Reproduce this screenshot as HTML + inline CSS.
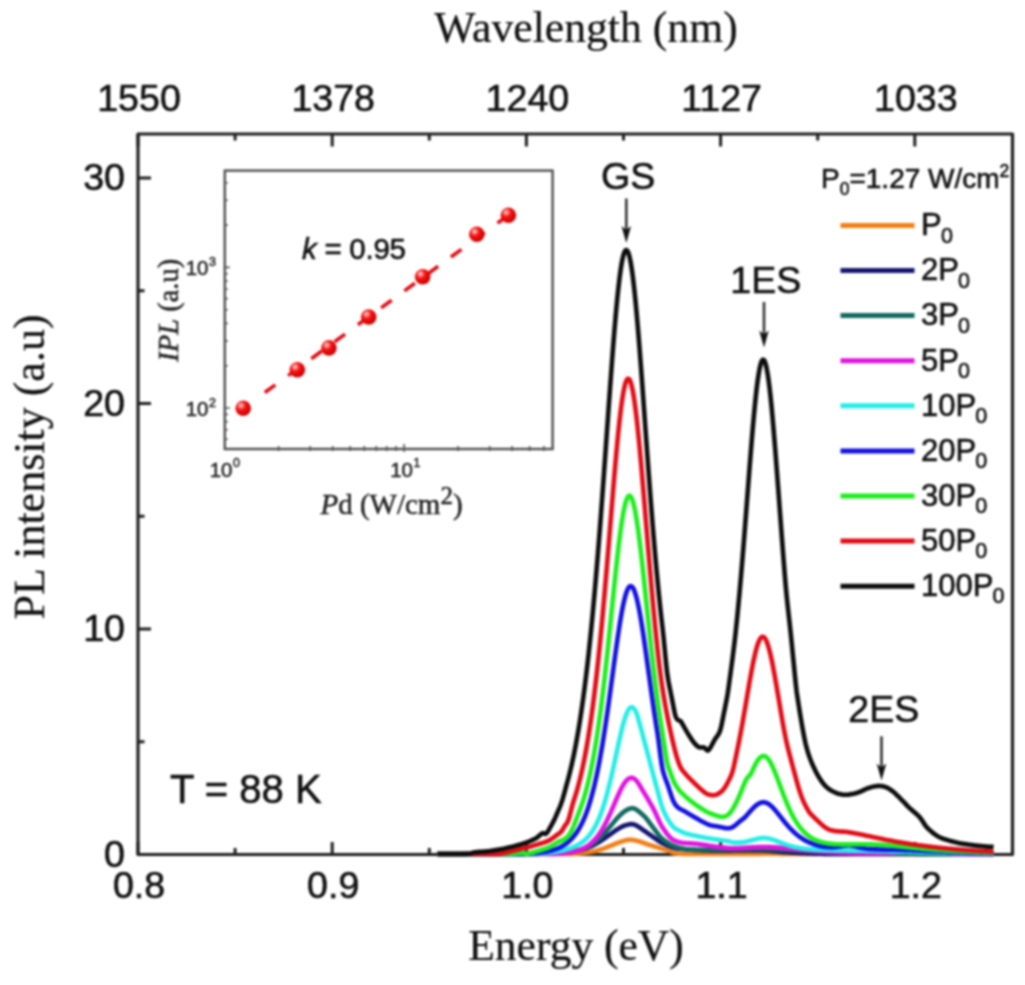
<!DOCTYPE html>
<html><head><meta charset="utf-8"><style>
html,body{margin:0;padding:0;background:#fff;overflow:hidden;}
svg{display:block;}
</style></head><body>
<svg width="1025" height="985" viewBox="0 0 1025 985">
<defs><filter id="soft" filterUnits="userSpaceOnUse" x="0" y="0" width="1025" height="985" color-interpolation-filters="sRGB"><feGaussianBlur stdDeviation="1.0"/></filter></defs>
<g filter="url(#soft)">
<rect width="1025" height="985" fill="#fff"/>
<text x="586" y="41.5" font-family="'Liberation Serif', serif" font-size="43.7" text-anchor="middle" fill="#111" stroke="#111" stroke-width="0.24">Wavelength (nm)</text>
<text x="576" y="960" font-family="'Liberation Serif', serif" font-size="43.5" text-anchor="middle" fill="#111" stroke="#111" stroke-width="0.24">Energy (eV)</text>
<text transform="translate(44,467) rotate(-90)" font-family="'Liberation Serif', serif" font-size="44" text-anchor="middle" fill="#111" stroke="#111" stroke-width="0.24">PL intensity (a.u)</text>
<text x="139.0" y="110.6" font-family="'Liberation Sans', sans-serif" font-size="37.6" text-anchor="middle" fill="#111" stroke="#111" stroke-width="0.6">1550</text>
<text x="333.2" y="110.6" font-family="'Liberation Sans', sans-serif" font-size="37.6" text-anchor="middle" fill="#111" stroke="#111" stroke-width="0.6">1378</text>
<text x="527.4" y="110.6" font-family="'Liberation Sans', sans-serif" font-size="37.6" text-anchor="middle" fill="#111" stroke="#111" stroke-width="0.6">1240</text>
<text x="721.6" y="110.6" font-family="'Liberation Sans', sans-serif" font-size="37.6" text-anchor="middle" fill="#111" stroke="#111" stroke-width="0.6">1127</text>
<text x="915.8" y="110.6" font-family="'Liberation Sans', sans-serif" font-size="37.6" text-anchor="middle" fill="#111" stroke="#111" stroke-width="0.6">1033</text>
<text x="139.0" y="898" font-family="'Liberation Sans', sans-serif" font-size="37.6" text-anchor="middle" fill="#111" stroke="#111" stroke-width="0.6">0.8</text>
<text x="333.2" y="898" font-family="'Liberation Sans', sans-serif" font-size="37.6" text-anchor="middle" fill="#111" stroke="#111" stroke-width="0.6">0.9</text>
<text x="527.4" y="898" font-family="'Liberation Sans', sans-serif" font-size="37.6" text-anchor="middle" fill="#111" stroke="#111" stroke-width="0.6">1.0</text>
<text x="721.6" y="898" font-family="'Liberation Sans', sans-serif" font-size="37.6" text-anchor="middle" fill="#111" stroke="#111" stroke-width="0.6">1.1</text>
<text x="915.8" y="898" font-family="'Liberation Sans', sans-serif" font-size="37.6" text-anchor="middle" fill="#111" stroke="#111" stroke-width="0.6">1.2</text>
<text x="125" y="866.8" font-family="'Liberation Sans', sans-serif" font-size="37.6" text-anchor="end" fill="#111" stroke="#111" stroke-width="0.6">0</text>
<text x="125" y="641.3" font-family="'Liberation Sans', sans-serif" font-size="37.6" text-anchor="end" fill="#111" stroke="#111" stroke-width="0.6">10</text>
<text x="125" y="415.8" font-family="'Liberation Sans', sans-serif" font-size="37.6" text-anchor="end" fill="#111" stroke="#111" stroke-width="0.6">20</text>
<text x="125" y="190.3" font-family="'Liberation Sans', sans-serif" font-size="37.6" text-anchor="end" fill="#111" stroke="#111" stroke-width="0.6">30</text>
<path d="M138.0 854.5V842.0M138.0 134.0V146.5M235.1 854.5V848.0M235.1 134.0V140.5M332.2 854.5V842.0M332.2 134.0V146.5M429.3 854.5V848.0M429.3 134.0V140.5M526.4 854.5V842.0M526.4 134.0V146.5M623.5 854.5V848.0M623.5 134.0V140.5M720.6 854.5V842.0M720.6 134.0V146.5M817.7 854.5V848.0M817.7 134.0V140.5M914.8 854.5V842.0M914.8 134.0V146.5M138.0 854.5H151.0M138.0 741.8H144.5M138.0 629.0H151.0M138.0 516.2H144.5M138.0 403.5H151.0M138.0 290.8H144.5M138.0 178.0H151.0" stroke="#1e1e1e" stroke-width="3" fill="none"/>
<rect x="138.0" y="134.0" width="874.5" height="720.5" fill="none" stroke="#1e1e1e" stroke-width="3.2" stroke-linejoin="round"/>
<rect x="224.8" y="170.6" width="327.8" height="278.4" fill="#fff" stroke="#4e4e4e" stroke-width="2.4"/>
<path d="M278.6 451.0V446.0M310.2 451.0V446.0M332.7 451.0V446.0M350.1 451.0V446.0M364.3 451.0V446.0M376.3 451.0V446.0M386.7 451.0V446.0M395.9 451.0V446.0M458.1 451.0V446.0M489.7 451.0V446.0M512.2 451.0V446.0M529.6 451.0V446.0M543.8 451.0V446.0M223.8 439.2H227.8M223.8 429.8H227.8M223.8 421.6H227.8M223.8 414.4H227.8M223.8 408.0H229.8M223.8 365.7H227.8M223.8 340.9H227.8M223.8 323.4H227.8M223.8 309.7H227.8M223.8 298.6H227.8M223.8 289.2H227.8M223.8 281.0H227.8M223.8 273.8H227.8M223.8 267.4H229.8M223.8 225.1H227.8M223.8 200.3H227.8M223.8 182.8H227.8M404.1 452.0V444.0" stroke="#555" stroke-width="1.6" fill="none"/>
<text x="208.5" y="274.9" font-family="'Liberation Sans', sans-serif" font-size="20.5" text-anchor="end" fill="#222" stroke="#222" stroke-width="0.48">10</text>
<text x="209" y="265.9" font-family="'Liberation Sans', sans-serif" font-size="12.5" fill="#222" stroke="#222" stroke-width="0.48">3</text>
<text x="208.5" y="415.5" font-family="'Liberation Sans', sans-serif" font-size="20.5" text-anchor="end" fill="#222" stroke="#222" stroke-width="0.48">10</text>
<text x="209" y="406.5" font-family="'Liberation Sans', sans-serif" font-size="12.5" fill="#222" stroke="#222" stroke-width="0.48">2</text>
<text x="232.5" y="476.5" font-family="'Liberation Sans', sans-serif" font-size="20.5" text-anchor="end" fill="#222" stroke="#222" stroke-width="0.48">10</text>
<text x="233" y="467" font-family="'Liberation Sans', sans-serif" font-size="12.5" fill="#222" stroke="#222" stroke-width="0.48">0</text>
<text x="413" y="476.5" font-family="'Liberation Sans', sans-serif" font-size="20.5" text-anchor="end" fill="#222" stroke="#222" stroke-width="0.48">10</text>
<text x="413.5" y="467" font-family="'Liberation Sans', sans-serif" font-size="12.5" fill="#222" stroke="#222" stroke-width="0.48">1</text>
<text x="391.5" y="514" font-family="'Liberation Serif', serif" font-size="29" text-anchor="middle" fill="#222" stroke="#222" stroke-width="0.48"><tspan font-style="italic">P</tspan>d (W/cm<tspan dy="-10" font-size="25">2</tspan><tspan dy="10">)</tspan></text>
<text transform="translate(177.5,310.3) rotate(-90)" font-family="'Liberation Serif', serif" font-size="28.5" text-anchor="middle" fill="#222" stroke="#222" stroke-width="0.48"><tspan font-style="italic">IPL</tspan> (a.u)</text>
<text x="302" y="259.3" font-family="'Liberation Sans', sans-serif" font-size="29.5" textLength="104" lengthAdjust="spacing" fill="#111" stroke="#111" stroke-width="0.6"><tspan font-style="italic">k</tspan> = 0.95</text>
<line x1="252.9" y1="401.2" x2="508.4" y2="215.2" stroke="#e20c16" stroke-width="3.6" stroke-dasharray="13,15.78" stroke-dashoffset="14.08"/>
<defs><radialGradient id="sph" cx="0.36" cy="0.32" r="0.72"><stop offset="0" stop-color="#ffffff"/><stop offset="0.22" stop-color="#ff6060"/><stop offset="0.45" stop-color="#f01010"/><stop offset="1" stop-color="#c80000"/></radialGradient></defs>
<circle cx="243.2" cy="408.3" r="7.8" fill="url(#sph)"/>
<circle cx="297.3" cy="369.7" r="7.8" fill="url(#sph)"/>
<circle cx="328.9" cy="347.9" r="7.8" fill="url(#sph)"/>
<circle cx="368.7" cy="317.0" r="7.8" fill="url(#sph)"/>
<circle cx="422.7" cy="276.8" r="7.8" fill="url(#sph)"/>
<circle cx="476.8" cy="234.3" r="7.8" fill="url(#sph)"/>
<circle cx="508.4" cy="215.2" r="7.8" fill="url(#sph)"/>
<polyline points="437.6,854.0 438.6,854.0 439.6,854.0 440.6,854.0 441.6,854.0 442.6,854.0 443.6,854.0 444.6,854.0 445.6,854.0 446.6,854.0 447.6,854.0 448.6,854.0 449.6,854.0 450.6,854.0 451.6,854.0 452.6,854.0 453.6,854.0 454.6,854.0 455.6,854.0 456.6,854.0 457.6,854.0 458.6,854.0 459.6,854.0 460.6,854.0 461.6,854.0 462.6,854.0 463.6,854.0 464.6,854.0 465.6,854.0 466.6,854.0 467.6,854.0 468.6,854.0 469.6,854.0 470.6,854.0 471.6,854.0 472.6,854.0 473.6,854.0 474.6,854.0 475.6,854.0 476.6,854.0 477.6,854.0 478.6,854.0 479.6,854.0 480.6,854.0 481.6,854.0 482.6,854.0 483.6,854.0 484.6,854.0 485.6,854.0 486.6,854.0 487.6,854.0 488.6,854.0 489.6,854.0 490.6,854.0 491.6,854.0 492.6,854.0 493.6,854.0 494.6,854.0 495.6,854.0 496.6,854.0 497.6,854.0 498.6,854.0 499.6,854.0 500.6,854.0 501.6,854.0 502.6,854.0 503.6,854.0 504.6,854.0 505.6,854.0 506.6,854.0 507.6,854.0 508.6,854.0 509.6,854.0 510.6,854.0 511.6,854.0 512.6,854.0 513.6,854.0 514.6,854.0 515.6,854.0 516.6,854.0 517.6,854.0 518.6,854.0 519.6,854.0 520.6,854.0 521.6,854.0 522.6,854.0 523.6,854.0 524.6,854.0 525.6,854.0 526.6,854.0 527.6,854.0 528.6,854.0 529.6,854.0 530.6,854.0 531.6,854.0 532.6,854.0 533.6,854.0 534.6,854.0 535.6,854.0 536.6,854.0 537.6,854.0 538.6,854.0 539.6,854.0 540.6,854.0 541.6,854.0 542.6,854.0 543.6,854.0 544.6,854.0 545.6,854.0 546.6,854.0 547.6,854.0 548.6,854.0 549.6,854.0 550.6,854.0 551.6,854.0 552.6,854.0 553.6,854.0 554.6,854.0 555.6,854.0 556.6,854.0 557.6,854.0 558.6,854.0 559.6,854.0 560.6,854.0 561.6,854.0 562.6,854.0 563.6,854.0 564.6,854.0 565.6,854.0 566.6,854.0 567.6,854.0 568.6,854.0 569.6,854.0 570.6,854.0 571.6,853.9 572.6,853.9 573.6,853.8 574.6,853.8 575.6,853.7 576.6,853.7 577.6,853.6 578.6,853.5 579.6,853.4 580.6,853.3 581.6,853.2 582.6,853.1 583.6,853.0 584.6,852.9 585.6,852.8 586.6,852.6 587.6,852.5 588.6,852.3 589.6,852.2 590.6,852.0 591.6,851.8 592.6,851.6 593.6,851.4 594.6,851.2 595.6,850.9 596.6,850.7 597.6,850.4 598.6,850.1 599.6,849.8 600.6,849.5 601.6,849.2 602.6,848.9 603.6,848.5 604.6,848.2 605.6,847.8 606.6,847.4 607.6,847.0 608.6,846.6 609.6,846.2 610.6,845.8 611.6,845.4 612.6,845.0 613.6,844.6 614.6,844.1 615.6,843.7 616.6,843.3 617.6,842.9 618.6,842.5 619.6,842.2 620.6,841.8 621.6,841.5 622.6,841.2 623.6,840.9 624.6,840.6 625.6,840.3 626.6,840.1 627.6,840.0 628.6,839.8 629.6,839.8 630.6,839.8 631.6,839.9 632.6,840.0 633.6,840.1 634.6,840.3 635.6,840.5 636.6,840.7 637.6,840.9 638.6,841.2 639.6,841.5 640.6,841.8 641.6,842.2 642.6,842.5 643.6,842.9 644.6,843.3 645.6,843.6 646.6,844.0 647.6,844.3 648.6,844.7 649.6,845.0 650.6,845.3 651.6,845.6 652.6,845.9 653.6,846.2 654.6,846.5 655.6,846.8 656.6,847.1 657.6,847.4 658.6,847.7 659.6,848.0 660.6,848.3 661.6,848.6 662.6,848.9 663.6,849.2 664.6,849.4 665.6,849.7 666.6,850.0 667.6,850.3 668.6,850.6 669.6,851.0 670.6,851.5 671.6,852.1 672.6,852.6 673.6,853.1 674.6,853.3 675.6,853.4 676.6,853.5 677.6,853.6 678.6,853.7 679.6,853.7 680.6,853.8 681.6,853.8 682.6,853.9 683.6,854.0 684.6,854.0 685.6,854.0 686.6,854.0 687.6,854.0 688.6,854.0 689.6,854.0 690.6,854.0 691.6,854.0 692.6,854.0 693.6,854.0 694.6,854.0 695.6,854.0 696.6,854.0 697.6,854.0 698.6,854.0 699.6,854.0 700.6,854.0 701.6,854.0 702.6,854.0 703.6,854.0 704.6,854.0 705.6,854.0 706.6,854.0 707.6,854.0 708.6,854.0 709.6,854.0 710.6,854.0 711.6,854.0 712.6,854.0 713.6,854.0 714.6,854.0 715.6,854.0 716.6,854.0 717.6,854.0 718.6,854.0 719.6,854.0 720.6,854.0 721.6,854.0 722.6,854.0 723.6,854.0 724.6,854.0 725.6,854.0 726.6,854.0 727.6,854.0 728.6,854.0 729.6,854.0 730.6,854.0 731.6,854.0 732.6,854.0 733.6,854.0 734.6,854.0 735.6,854.0 736.6,854.0 737.6,854.0 738.6,854.0 739.6,854.0 740.6,854.0 741.6,854.0 742.6,854.0 743.6,854.0 744.6,854.0 745.6,854.0 746.6,854.0 747.6,854.0 748.6,854.0 749.6,854.0 750.6,854.0 751.6,854.0 752.6,854.0 753.6,854.0 754.6,854.0 755.6,854.0 756.6,854.0 757.6,854.0 758.6,854.0 759.6,853.9 760.6,853.9 761.6,853.8 762.6,853.8 763.6,853.8 764.6,853.8 765.6,853.8 766.6,853.8 767.6,853.8 768.6,853.8 769.6,853.8 770.6,853.8 771.6,853.8 772.6,853.8 773.6,853.8 774.6,853.8 775.6,853.8 776.6,853.8 777.6,853.8 778.6,853.9 779.6,853.9 780.6,853.9 781.6,853.9 782.6,853.9 783.6,853.9 784.6,854.0 785.6,854.0 786.6,854.0 787.6,854.0 788.6,854.0 789.6,854.0 790.6,854.0 791.6,854.0 792.6,854.0 793.6,854.0 794.6,854.0 795.6,854.0 796.6,854.0 797.6,854.0 798.6,854.0 799.6,854.0 800.6,854.0 801.6,854.0 802.6,854.0 803.6,854.0 804.6,854.0 805.6,854.0 806.6,854.0 807.6,854.0 808.6,854.0 809.6,854.0 810.6,854.0 811.6,854.0 812.6,854.0 813.6,854.0 814.6,854.0 815.6,854.0 816.6,854.0 817.6,854.0 818.6,854.0 819.6,854.0 820.6,854.0 821.6,854.0 822.6,854.0 823.6,854.0 824.6,854.0 825.6,854.0 826.6,854.0 827.6,854.0 828.6,854.0 829.6,854.0 830.6,854.0 831.6,854.0 832.6,854.0 833.6,854.0 834.6,854.0 835.6,854.0 836.6,854.0 837.6,854.0 838.6,854.0 839.6,854.0 840.6,854.0 841.6,854.0 842.6,854.0 843.6,854.0 844.6,854.0 845.6,854.0 846.6,854.0 847.6,854.0 848.6,854.0 849.6,854.0 850.6,854.0 851.6,854.0 852.6,854.0 853.6,854.0 854.6,854.0 855.6,854.0 856.6,854.0 857.6,854.0 858.6,854.0 859.6,854.0 860.6,854.0 861.6,854.0 862.6,854.0 863.6,854.0 864.6,854.0 865.6,854.0 866.6,854.0 867.6,854.0 868.6,854.0 869.6,854.0 870.6,854.0 871.6,854.0 872.6,854.0 873.6,854.0 874.6,854.0 875.6,854.0 876.6,854.0 877.6,854.0 878.6,854.0 879.6,854.0 880.6,854.0 881.6,854.0 882.6,854.0 883.6,854.0 884.6,854.0 885.6,854.0 886.6,854.0 887.6,854.0 888.6,854.0 889.6,854.0 890.6,854.0 891.6,854.0 892.6,854.0 893.6,854.0 894.6,854.0 895.6,854.0 896.6,854.0 897.6,854.0 898.6,854.0 899.6,854.0 900.6,854.0 901.6,854.0 902.6,854.0 903.6,854.0 904.6,854.0 905.6,854.0 906.6,854.0 907.6,854.0 908.6,854.0 909.6,854.0 910.6,854.0 911.6,854.0 912.6,854.0 913.6,854.0 914.6,854.0 915.6,854.0 916.6,854.0 917.6,854.0 918.6,854.0 919.6,854.0 920.6,854.0 921.6,854.0 922.6,854.0 923.6,854.0 924.6,854.0 925.6,854.0 926.6,854.0 927.6,854.0 928.6,854.0 929.6,854.0 930.6,854.0 931.6,854.0 932.6,854.0 933.6,854.0 934.6,854.0 935.6,854.0 936.6,854.0 937.6,854.0 938.6,854.0 939.6,854.0 940.6,854.0 941.6,854.0 942.6,854.0 943.6,854.0 944.6,854.0 945.6,854.0 946.6,854.0 947.6,854.0 948.6,854.0 949.6,854.0 950.6,854.0 951.6,854.0 952.6,854.0 953.6,854.0 954.6,854.0 955.6,854.0 956.6,854.0 957.6,854.0 958.6,854.0 959.6,854.0 960.6,854.0 961.6,854.0 962.6,854.0 963.6,854.0 964.6,854.0 965.6,854.0 966.6,854.0 967.6,854.0 968.6,854.0 969.6,854.0 970.6,854.0 971.6,854.0 972.6,854.0 973.6,854.0 974.6,854.0 975.6,854.0 976.6,854.0 977.6,854.0 978.6,854.0 979.6,854.0 980.6,854.0 981.6,854.0 982.6,854.0 983.6,854.0 984.6,854.0 985.6,854.0 986.6,854.0 987.6,854.0 988.6,854.0 989.6,854.0 990.6,854.0 991.6,854.0 992.6,854.0 993.6,854.0" fill="none" stroke="#f08018" stroke-width="4.6" stroke-linejoin="round"/>
<polyline points="437.6,854.0 438.6,854.0 439.6,854.0 440.6,854.0 441.6,854.0 442.6,854.0 443.6,854.0 444.6,854.0 445.6,854.0 446.6,854.0 447.6,854.0 448.6,854.0 449.6,854.0 450.6,854.0 451.6,854.0 452.6,854.0 453.6,854.0 454.6,854.0 455.6,854.0 456.6,854.0 457.6,854.0 458.6,854.0 459.6,854.0 460.6,854.0 461.6,854.0 462.6,854.0 463.6,854.0 464.6,854.0 465.6,854.0 466.6,854.0 467.6,854.0 468.6,854.0 469.6,854.0 470.6,854.0 471.6,854.0 472.6,854.0 473.6,854.0 474.6,854.0 475.6,854.0 476.6,854.0 477.6,854.0 478.6,854.0 479.6,854.0 480.6,854.0 481.6,854.0 482.6,854.0 483.6,854.0 484.6,854.0 485.6,854.0 486.6,854.0 487.6,854.0 488.6,854.0 489.6,854.0 490.6,854.0 491.6,854.0 492.6,854.0 493.6,854.0 494.6,854.0 495.6,854.0 496.6,854.0 497.6,854.0 498.6,854.0 499.6,854.0 500.6,854.0 501.6,854.0 502.6,854.0 503.6,854.0 504.6,854.0 505.6,854.0 506.6,854.0 507.6,854.0 508.6,854.0 509.6,854.0 510.6,854.0 511.6,854.0 512.6,854.0 513.6,854.0 514.6,854.0 515.6,854.0 516.6,854.0 517.6,854.0 518.6,854.0 519.6,854.0 520.6,854.0 521.6,854.0 522.6,854.0 523.6,854.0 524.6,854.0 525.6,854.0 526.6,854.0 527.6,854.0 528.6,854.0 529.6,854.0 530.6,854.0 531.6,854.0 532.6,854.0 533.6,853.9 534.6,853.9 535.6,853.9 536.6,853.9 537.6,853.9 538.6,853.9 539.6,853.8 540.6,853.8 541.6,853.8 542.6,853.8 543.6,853.8 544.6,853.7 545.6,853.7 546.6,853.7 547.6,853.7 548.6,853.6 549.6,853.6 550.6,853.6 551.6,853.5 552.6,853.5 553.6,853.4 554.6,853.4 555.6,853.3 556.6,853.3 557.6,853.2 558.6,853.2 559.6,853.1 560.6,853.0 561.6,852.9 562.6,852.9 563.6,852.8 564.6,852.7 565.6,852.6 566.6,852.5 567.6,852.4 568.6,852.2 569.6,852.1 570.6,852.0 571.6,851.8 572.6,851.7 573.6,851.5 574.6,851.3 575.6,851.1 576.6,850.9 577.6,850.7 578.6,850.5 579.6,850.2 580.6,850.0 581.6,849.7 582.6,849.4 583.6,849.1 584.6,848.8 585.6,848.5 586.6,848.1 587.6,847.7 588.6,847.3 589.6,846.9 590.6,846.5 591.6,846.0 592.6,845.6 593.6,845.1 594.6,844.5 595.6,844.0 596.6,843.5 597.6,842.9 598.6,842.3 599.6,841.7 600.6,841.0 601.6,840.4 602.6,839.7 603.6,839.0 604.6,838.4 605.6,837.6 606.6,836.9 607.6,836.2 608.6,835.5 609.6,834.8 610.6,834.0 611.6,833.3 612.6,832.6 613.6,831.9 614.6,831.2 615.6,830.5 616.6,829.8 617.6,829.2 618.6,828.6 619.6,828.0 620.6,827.4 621.6,826.9 622.6,826.4 623.6,826.0 624.6,825.6 625.6,825.2 626.6,824.9 627.6,824.7 628.6,824.4 629.6,824.2 630.6,824.1 631.6,824.1 632.6,824.2 633.6,824.4 634.6,824.7 635.6,825.1 636.6,825.6 637.6,826.2 638.6,826.8 639.6,827.5 640.6,828.2 641.6,828.9 642.6,829.6 643.6,830.3 644.6,831.0 645.6,831.7 646.6,832.4 647.6,833.1 648.6,833.8 649.6,834.5 650.6,835.2 651.6,835.9 652.6,836.6 653.6,837.3 654.6,838.0 655.6,838.7 656.6,839.4 657.6,840.1 658.6,840.8 659.6,841.5 660.6,842.1 661.6,842.7 662.6,843.2 663.6,843.7 664.6,844.1 665.6,844.6 666.6,845.0 667.6,845.4 668.6,845.8 669.6,846.2 670.6,846.6 671.6,847.0 672.6,847.3 673.6,847.7 674.6,848.0 675.6,848.2 676.6,848.4 677.6,848.6 678.6,848.7 679.6,848.8 680.6,848.8 681.6,848.9 682.6,848.9 683.6,849.0 684.6,849.1 685.6,849.2 686.6,849.3 687.6,849.4 688.6,849.5 689.6,849.6 690.6,849.7 691.6,849.8 692.6,849.9 693.6,849.9 694.6,850.0 695.6,850.1 696.6,850.1 697.6,850.2 698.6,850.2 699.6,850.3 700.6,850.3 701.6,850.4 702.6,850.4 703.6,850.4 704.6,850.5 705.6,850.5 706.6,850.5 707.6,850.5 708.6,850.5 709.6,850.6 710.6,850.6 711.6,850.6 712.6,850.6 713.6,850.6 714.6,850.6 715.6,850.6 716.6,850.6 717.6,850.6 718.6,850.6 719.6,850.6 720.6,850.6 721.6,850.6 722.6,850.6 723.6,850.6 724.6,850.6 725.6,850.6 726.6,850.6 727.6,850.6 728.6,850.6 729.6,850.6 730.6,850.6 731.6,850.6 732.6,850.5 733.6,850.5 734.6,850.5 735.6,850.5 736.6,850.5 737.6,850.5 738.6,850.5 739.6,850.5 740.6,850.5 741.6,850.5 742.6,850.5 743.6,850.5 744.6,850.5 745.6,850.4 746.6,850.4 747.6,850.4 748.6,850.4 749.6,850.4 750.6,850.4 751.6,850.4 752.6,850.4 753.6,850.4 754.6,850.4 755.6,850.4 756.6,850.4 757.6,850.4 758.6,850.4 759.6,850.4 760.6,850.4 761.6,850.5 762.6,850.5 763.6,850.5 764.6,850.6 765.6,850.6 766.6,850.7 767.6,850.7 768.6,850.8 769.6,850.9 770.6,850.9 771.6,851.0 772.6,851.1 773.6,851.2 774.6,851.3 775.6,851.4 776.6,851.5 777.6,851.5 778.6,851.6 779.6,851.7 780.6,851.8 781.6,851.9 782.6,852.0 783.6,852.0 784.6,852.1 785.6,852.2 786.6,852.3 787.6,852.3 788.6,852.4 789.6,852.5 790.6,852.5 791.6,852.6 792.6,852.7 793.6,852.7 794.6,852.8 795.6,852.8 796.6,852.9 797.6,852.9 798.6,853.0 799.6,853.0 800.6,853.1 801.6,853.1 802.6,853.2 803.6,853.2 804.6,853.3 805.6,853.3 806.6,853.4 807.6,853.4 808.6,853.4 809.6,853.5 810.6,853.5 811.6,853.5 812.6,853.6 813.6,853.6 814.6,853.6 815.6,853.7 816.6,853.7 817.6,853.7 818.6,853.7 819.6,853.8 820.6,853.8 821.6,853.8 822.6,853.8 823.6,853.9 824.6,853.9 825.6,853.9 826.6,853.9 827.6,853.9 828.6,854.0 829.6,854.0 830.6,854.0 831.6,854.0 832.6,854.0 833.6,854.0 834.6,854.0 835.6,854.0 836.6,854.0 837.6,854.0 838.6,854.0 839.6,854.0 840.6,854.0 841.6,854.0 842.6,854.0 843.6,854.0 844.6,854.0 845.6,854.0 846.6,854.0 847.6,854.0 848.6,854.0 849.6,854.0 850.6,854.0 851.6,854.0 852.6,854.0 853.6,854.0 854.6,854.0 855.6,854.0 856.6,854.0 857.6,854.0 858.6,854.0 859.6,854.0 860.6,854.0 861.6,854.0 862.6,854.0 863.6,854.0 864.6,854.0 865.6,854.0 866.6,854.0 867.6,854.0 868.6,854.0 869.6,854.0 870.6,854.0 871.6,854.0 872.6,854.0 873.6,854.0 874.6,854.0 875.6,854.0 876.6,854.0 877.6,854.0 878.6,854.0 879.6,854.0 880.6,854.0 881.6,854.0 882.6,854.0 883.6,854.0 884.6,854.0 885.6,854.0 886.6,854.0 887.6,854.0 888.6,854.0 889.6,854.0 890.6,854.0 891.6,854.0 892.6,854.0 893.6,854.0 894.6,854.0 895.6,854.0 896.6,854.0 897.6,854.0 898.6,854.0 899.6,854.0 900.6,854.0 901.6,854.0 902.6,854.0 903.6,854.0 904.6,854.0 905.6,854.0 906.6,854.0 907.6,854.0 908.6,854.0 909.6,854.0 910.6,854.0 911.6,854.0 912.6,854.0 913.6,854.0 914.6,854.0 915.6,854.0 916.6,854.0 917.6,854.0 918.6,854.0 919.6,854.0 920.6,854.0 921.6,854.0 922.6,854.0 923.6,854.0 924.6,854.0 925.6,854.0 926.6,854.0 927.6,854.0 928.6,854.0 929.6,854.0 930.6,854.0 931.6,854.0 932.6,854.0 933.6,854.0 934.6,854.0 935.6,854.0 936.6,854.0 937.6,854.0 938.6,854.0 939.6,854.0 940.6,854.0 941.6,854.0 942.6,854.0 943.6,854.0 944.6,854.0 945.6,854.0 946.6,854.0 947.6,854.0 948.6,854.0 949.6,854.0 950.6,854.0 951.6,854.0 952.6,854.0 953.6,854.0 954.6,854.0 955.6,854.0 956.6,854.0 957.6,854.0 958.6,854.0 959.6,854.0 960.6,854.0 961.6,854.0 962.6,854.0 963.6,854.0 964.6,854.0 965.6,854.0 966.6,854.0 967.6,854.0 968.6,854.0 969.6,854.0 970.6,854.0 971.6,854.0 972.6,854.0 973.6,854.0 974.6,854.0 975.6,854.0 976.6,854.0 977.6,854.0 978.6,854.0 979.6,854.0 980.6,854.0 981.6,854.0 982.6,854.0 983.6,854.0 984.6,854.0 985.6,854.0 986.6,854.0 987.6,854.0 988.6,854.0 989.6,854.0 990.6,854.0 991.6,854.0 992.6,854.0 993.6,854.0" fill="none" stroke="#161672" stroke-width="4.6" stroke-linejoin="round"/>
<polyline points="437.6,854.0 438.6,854.0 439.6,854.0 440.6,854.0 441.6,854.0 442.6,854.0 443.6,854.0 444.6,854.0 445.6,854.0 446.6,854.0 447.6,854.0 448.6,854.0 449.6,854.0 450.6,854.0 451.6,854.0 452.6,854.0 453.6,854.0 454.6,854.0 455.6,854.0 456.6,854.0 457.6,854.0 458.6,854.0 459.6,854.0 460.6,854.0 461.6,854.0 462.6,854.0 463.6,854.0 464.6,854.0 465.6,854.0 466.6,854.0 467.6,854.0 468.6,854.0 469.6,854.0 470.6,854.0 471.6,854.0 472.6,854.0 473.6,854.0 474.6,854.0 475.6,854.0 476.6,854.0 477.6,854.0 478.6,854.0 479.6,854.0 480.6,854.0 481.6,854.0 482.6,854.0 483.6,854.0 484.6,854.0 485.6,854.0 486.6,854.0 487.6,854.0 488.6,854.0 489.6,854.0 490.6,854.0 491.6,854.0 492.6,854.0 493.6,854.0 494.6,854.0 495.6,854.0 496.6,854.0 497.6,854.0 498.6,854.0 499.6,854.0 500.6,854.0 501.6,854.0 502.6,854.0 503.6,854.0 504.6,854.0 505.6,854.0 506.6,854.0 507.6,854.0 508.6,854.0 509.6,854.0 510.6,854.0 511.6,854.0 512.6,854.0 513.6,854.0 514.6,854.0 515.6,854.0 516.6,854.0 517.6,854.0 518.6,854.0 519.6,853.9 520.6,853.9 521.6,853.9 522.6,853.9 523.6,853.9 524.6,853.9 525.6,853.9 526.6,853.9 527.6,853.9 528.6,853.9 529.6,853.9 530.6,853.8 531.6,853.8 532.6,853.8 533.6,853.8 534.6,853.8 535.6,853.8 536.6,853.8 537.6,853.8 538.6,853.7 539.6,853.7 540.6,853.7 541.6,853.7 542.6,853.7 543.6,853.6 544.6,853.6 545.6,853.6 546.6,853.6 547.6,853.5 548.6,853.5 549.6,853.5 550.6,853.5 551.6,853.4 552.6,853.4 553.6,853.3 554.6,853.3 555.6,853.2 556.6,853.2 557.6,853.1 558.6,853.1 559.6,853.0 560.6,852.9 561.6,852.9 562.6,852.8 563.6,852.7 564.6,852.6 565.6,852.5 566.6,852.4 567.6,852.3 568.6,852.1 569.6,852.0 570.6,851.9 571.6,851.7 572.6,851.5 573.6,851.3 574.6,851.1 575.6,850.9 576.6,850.7 577.6,850.4 578.6,850.2 579.6,849.9 580.6,849.6 581.6,849.2 582.6,848.9 583.6,848.5 584.6,848.1 585.6,847.7 586.6,847.2 587.6,846.7 588.6,846.2 589.6,845.6 590.6,845.0 591.6,844.4 592.6,843.8 593.6,843.1 594.6,842.3 595.6,841.6 596.6,840.8 597.6,839.9 598.6,839.0 599.6,838.1 600.6,837.2 601.6,836.2 602.6,835.2 603.6,834.1 604.6,833.0 605.6,831.9 606.6,830.7 607.6,829.6 608.6,828.4 609.6,827.2 610.6,826.0 611.6,824.8 612.6,823.6 613.6,822.4 614.6,821.2 615.6,820.0 616.6,818.8 617.6,817.7 618.6,816.6 619.6,815.6 620.6,814.6 621.6,813.7 622.6,812.8 623.6,812.0 624.6,811.3 625.6,810.6 626.6,810.1 627.6,809.5 628.6,809.1 629.6,808.7 630.6,808.4 631.6,808.2 632.6,808.2 633.6,808.3 634.6,808.7 635.6,809.2 636.6,809.8 637.6,810.5 638.6,811.3 639.6,812.1 640.6,812.9 641.6,813.8 642.6,814.7 643.6,815.6 644.6,816.5 645.6,817.6 646.6,818.8 647.6,820.1 648.6,821.4 649.6,822.8 650.6,824.1 651.6,825.5 652.6,826.8 653.6,828.2 654.6,829.5 655.6,830.8 656.6,832.2 657.6,833.5 658.6,834.8 659.6,836.1 660.6,837.2 661.6,838.2 662.6,839.1 663.6,839.9 664.6,840.6 665.6,841.3 666.6,842.0 667.6,842.7 668.6,843.3 669.6,843.9 670.6,844.5 671.6,845.0 672.6,845.5 673.6,845.9 674.6,846.2 675.6,846.6 676.6,846.9 677.6,847.3 678.6,847.6 679.6,847.9 680.6,848.2 681.6,848.5 682.6,848.7 683.6,848.9 684.6,849.1 685.6,849.3 686.6,849.4 687.6,849.6 688.6,849.6 689.6,849.7 690.6,849.7 691.6,849.7 692.6,849.7 693.6,849.6 694.6,849.6 695.6,849.7 696.6,849.7 697.6,849.7 698.6,849.8 699.6,849.8 700.6,849.8 701.6,849.8 702.6,849.8 703.6,849.8 704.6,849.8 705.6,849.8 706.6,849.8 707.6,849.8 708.6,849.8 709.6,849.8 710.6,849.8 711.6,849.8 712.6,849.8 713.6,849.8 714.6,849.8 715.6,849.8 716.6,849.7 717.6,849.7 718.6,849.7 719.6,849.7 720.6,849.7 721.6,849.6 722.6,849.6 723.6,849.6 724.6,849.6 725.6,849.5 726.6,849.5 727.6,849.5 728.6,849.5 729.6,849.4 730.6,849.4 731.6,849.4 732.6,849.4 733.6,849.4 734.6,849.3 735.6,849.3 736.6,849.3 737.6,849.3 738.6,849.2 739.6,849.2 740.6,849.2 741.6,849.2 742.6,849.2 743.6,849.1 744.6,849.1 745.6,849.1 746.6,849.1 747.6,849.1 748.6,849.1 749.6,849.1 750.6,849.1 751.6,849.0 752.6,849.0 753.6,849.0 754.6,849.0 755.6,849.0 756.6,849.0 757.6,849.0 758.6,849.0 759.6,849.0 760.6,849.0 761.6,849.0 762.6,849.0 763.6,849.0 764.6,849.1 765.6,849.1 766.6,849.1 767.6,849.1 768.6,849.1 769.6,849.2 770.6,849.2 771.6,849.2 772.6,849.2 773.6,849.3 774.6,849.3 775.6,849.4 776.6,849.4 777.6,849.4 778.6,849.5 779.6,849.5 780.6,849.6 781.6,849.6 782.6,849.7 783.6,849.7 784.6,849.8 785.6,849.8 786.6,849.9 787.6,849.9 788.6,850.0 789.6,850.0 790.6,850.1 791.6,850.1 792.6,850.2 793.6,850.2 794.6,850.3 795.6,850.3 796.6,850.4 797.6,850.5 798.6,850.5 799.6,850.6 800.6,850.6 801.6,850.7 802.6,850.7 803.6,850.8 804.6,850.8 805.6,850.9 806.6,850.9 807.6,851.0 808.6,851.0 809.6,851.1 810.6,851.1 811.6,851.2 812.6,851.2 813.6,851.3 814.6,851.3 815.6,851.4 816.6,851.4 817.6,851.5 818.6,851.5 819.6,851.6 820.6,851.6 821.6,851.6 822.6,851.7 823.6,851.7 824.6,851.8 825.6,851.8 826.6,851.9 827.6,851.9 828.6,851.9 829.6,852.0 830.6,852.0 831.6,852.1 832.6,852.1 833.6,852.1 834.6,852.2 835.6,852.2 836.6,852.2 837.6,852.3 838.6,852.3 839.6,852.3 840.6,852.4 841.6,852.4 842.6,852.4 843.6,852.5 844.6,852.5 845.6,852.5 846.6,852.6 847.6,852.6 848.6,852.6 849.6,852.7 850.6,852.7 851.6,852.7 852.6,852.7 853.6,852.8 854.6,852.8 855.6,852.8 856.6,852.8 857.6,852.9 858.6,852.9 859.6,852.9 860.6,852.9 861.6,853.0 862.6,853.0 863.6,853.0 864.6,853.0 865.6,853.1 866.6,853.1 867.6,853.1 868.6,853.1 869.6,853.2 870.6,853.2 871.6,853.2 872.6,853.2 873.6,853.2 874.6,853.3 875.6,853.3 876.6,853.3 877.6,853.3 878.6,853.3 879.6,853.4 880.6,853.4 881.6,853.4 882.6,853.4 883.6,853.4 884.6,853.4 885.6,853.5 886.6,853.5 887.6,853.5 888.6,853.5 889.6,853.5 890.6,853.5 891.6,853.6 892.6,853.6 893.6,853.6 894.6,853.6 895.6,853.6 896.6,853.6 897.6,853.6 898.6,853.7 899.6,853.7 900.6,853.7 901.6,853.7 902.6,853.7 903.6,853.7 904.6,853.7 905.6,853.7 906.6,853.8 907.6,853.8 908.6,853.8 909.6,853.8 910.6,853.8 911.6,853.8 912.6,853.8 913.6,853.8 914.6,853.8 915.6,853.9 916.6,853.9 917.6,853.9 918.6,853.9 919.6,853.9 920.6,853.9 921.6,853.9 922.6,853.9 923.6,853.9 924.6,853.9 925.6,853.9 926.6,854.0 927.6,854.0 928.6,854.0 929.6,854.0 930.6,854.0 931.6,854.0 932.6,854.0 933.6,854.0 934.6,854.0 935.6,854.0 936.6,854.0 937.6,854.0 938.6,854.0 939.6,854.0 940.6,854.0 941.6,854.0 942.6,854.0 943.6,854.0 944.6,854.0 945.6,854.0 946.6,854.0 947.6,854.0 948.6,854.0 949.6,854.0 950.6,854.0 951.6,854.0 952.6,854.0 953.6,854.0 954.6,854.0 955.6,854.0 956.6,854.0 957.6,854.0 958.6,854.0 959.6,854.0 960.6,854.0 961.6,854.0 962.6,854.0 963.6,854.0 964.6,854.0 965.6,854.0 966.6,854.0 967.6,854.0 968.6,854.0 969.6,854.0 970.6,854.0 971.6,854.0 972.6,854.0 973.6,854.0 974.6,854.0 975.6,854.0 976.6,854.0 977.6,854.0 978.6,854.0 979.6,854.0 980.6,854.0 981.6,854.0 982.6,854.0 983.6,854.0 984.6,854.0 985.6,854.0 986.6,854.0 987.6,854.0 988.6,854.0 989.6,854.0 990.6,854.0 991.6,854.0 992.6,854.0 993.6,854.0" fill="none" stroke="#126a60" stroke-width="4.6" stroke-linejoin="round"/>
<polyline points="437.6,854.0 438.6,854.0 439.6,854.0 440.6,854.0 441.6,854.0 442.6,854.0 443.6,854.0 444.6,854.0 445.6,854.0 446.6,854.0 447.6,854.0 448.6,854.0 449.6,854.0 450.6,854.0 451.6,854.0 452.6,854.0 453.6,854.0 454.6,854.0 455.6,854.0 456.6,854.0 457.6,854.0 458.6,854.0 459.6,854.0 460.6,854.0 461.6,854.0 462.6,854.0 463.6,854.0 464.6,854.0 465.6,854.0 466.6,854.0 467.6,854.0 468.6,854.0 469.6,854.0 470.6,854.0 471.6,854.0 472.6,854.0 473.6,854.0 474.6,854.0 475.6,854.0 476.6,854.0 477.6,854.0 478.6,854.0 479.6,854.0 480.6,854.0 481.6,854.0 482.6,854.0 483.6,854.0 484.6,854.0 485.6,854.0 486.6,854.0 487.6,854.0 488.6,854.0 489.6,854.0 490.6,854.0 491.6,854.0 492.6,854.0 493.6,854.0 494.6,854.0 495.6,854.0 496.6,854.0 497.6,854.0 498.6,854.0 499.6,854.0 500.6,854.0 501.6,854.0 502.6,854.0 503.6,854.0 504.6,854.0 505.6,854.0 506.6,854.0 507.6,854.0 508.6,854.0 509.6,854.0 510.6,854.0 511.6,854.0 512.6,854.0 513.6,854.0 514.6,854.0 515.6,854.0 516.6,854.0 517.6,854.0 518.6,854.0 519.6,854.0 520.6,854.0 521.6,854.0 522.6,854.0 523.6,854.0 524.6,854.0 525.6,854.0 526.6,854.0 527.6,854.0 528.6,854.0 529.6,854.0 530.6,854.0 531.6,854.0 532.6,854.0 533.6,854.0 534.6,854.0 535.6,854.0 536.6,854.0 537.6,854.0 538.6,854.0 539.6,854.0 540.6,854.0 541.6,854.0 542.6,854.0 543.6,854.0 544.6,854.0 545.6,854.0 546.6,854.0 547.6,854.0 548.6,854.0 549.6,854.0 550.6,854.0 551.6,854.0 552.6,854.0 553.6,854.0 554.6,853.9 555.6,853.9 556.6,853.8 557.6,853.8 558.6,853.7 559.6,853.6 560.6,853.6 561.6,853.5 562.6,853.4 563.6,853.3 564.6,853.2 565.6,853.1 566.6,853.0 567.6,852.8 568.6,852.7 569.6,852.5 570.6,852.4 571.6,852.2 572.6,852.0 573.6,851.7 574.6,851.5 575.6,851.3 576.6,851.0 577.6,850.7 578.6,850.4 579.6,850.0 580.6,849.6 581.6,849.2 582.6,848.8 583.6,848.3 584.6,847.8 585.6,847.2 586.6,846.6 587.6,846.0 588.6,845.3 589.6,844.5 590.6,843.7 591.6,842.8 592.6,841.9 593.6,840.9 594.6,839.9 595.6,838.7 596.6,837.6 597.6,836.3 598.6,834.9 599.6,833.5 600.6,832.0 601.6,830.4 602.6,828.7 603.6,827.0 604.6,825.1 605.6,823.2 606.6,821.2 607.6,819.2 608.6,817.1 609.6,814.9 610.6,812.6 611.6,810.3 612.6,808.0 613.6,805.7 614.6,803.3 615.6,801.0 616.6,798.7 617.6,796.4 618.6,794.2 619.6,792.0 620.6,789.9 621.6,788.0 622.6,786.1 623.6,784.4 624.6,782.9 625.6,781.5 626.6,780.4 627.6,779.4 628.6,778.7 629.6,778.2 630.6,777.9 631.6,777.8 632.6,778.0 633.6,778.4 634.6,779.0 635.6,779.9 636.6,780.9 637.6,782.2 638.6,783.6 639.6,785.2 640.6,787.0 641.6,788.7 642.6,790.3 643.6,792.0 644.6,793.6 645.6,795.3 646.6,796.9 647.6,798.6 648.6,800.3 649.6,802.1 650.6,803.8 651.6,805.5 652.6,807.3 653.6,809.1 654.6,811.1 655.6,813.3 656.6,815.6 657.6,817.8 658.6,820.0 659.6,822.1 660.6,824.0 661.6,825.8 662.6,827.5 663.6,829.0 664.6,830.5 665.6,832.0 666.6,833.3 667.6,834.6 668.6,835.8 669.6,836.9 670.6,837.9 671.6,838.8 672.6,839.5 673.6,840.1 674.6,840.6 675.6,841.0 676.6,841.4 677.6,841.7 678.6,842.0 679.6,842.3 680.6,842.5 681.6,842.7 682.6,842.9 683.6,843.0 684.6,843.0 685.6,843.1 686.6,843.2 687.6,843.2 688.6,843.3 689.6,843.4 690.6,843.4 691.6,843.5 692.6,843.5 693.6,843.6 694.6,843.7 695.6,843.8 696.6,843.8 697.6,844.0 698.6,844.1 699.6,844.2 700.6,844.4 701.6,844.5 702.6,844.7 703.6,844.8 704.6,845.0 705.6,845.1 706.6,845.3 707.6,845.5 708.6,845.7 709.6,845.8 710.6,846.0 711.6,846.1 712.6,846.3 713.6,846.5 714.6,846.6 715.6,846.8 716.6,846.9 717.6,847.0 718.6,847.1 719.6,847.2 720.6,847.3 721.6,847.3 722.6,847.4 723.6,847.5 724.6,847.7 725.6,847.8 726.6,847.9 727.6,848.0 728.6,848.1 729.6,848.2 730.6,848.2 731.6,848.2 732.6,848.3 733.6,848.3 734.6,848.3 735.6,848.3 736.6,848.2 737.6,848.2 738.6,848.2 739.6,848.1 740.6,848.1 741.6,848.0 742.6,848.0 743.6,847.9 744.6,847.8 745.6,847.8 746.6,847.7 747.6,847.6 748.6,847.6 749.6,847.5 750.6,847.5 751.6,847.4 752.6,847.3 753.6,847.3 754.6,847.2 755.6,847.2 756.6,847.2 757.6,847.1 758.6,847.1 759.6,847.1 760.6,847.0 761.6,847.0 762.6,847.0 763.6,847.0 764.6,847.0 765.6,847.0 766.6,847.0 767.6,847.1 768.6,847.1 769.6,847.1 770.6,847.1 771.6,847.2 772.6,847.2 773.6,847.3 774.6,847.4 775.6,847.4 776.6,847.5 777.6,847.6 778.6,847.6 779.6,847.7 780.6,847.8 781.6,847.9 782.6,848.0 783.6,848.1 784.6,848.2 785.6,848.3 786.6,848.4 787.6,848.5 788.6,848.6 789.6,848.7 790.6,848.8 791.6,848.9 792.6,849.0 793.6,849.1 794.6,849.2 795.6,849.3 796.6,849.4 797.6,849.5 798.6,849.6 799.6,849.7 800.6,849.8 801.6,849.9 802.6,850.0 803.6,850.1 804.6,850.2 805.6,850.3 806.6,850.4 807.6,850.4 808.6,850.5 809.6,850.6 810.6,850.7 811.6,850.8 812.6,850.9 813.6,851.0 814.6,851.0 815.6,851.1 816.6,851.2 817.6,851.3 818.6,851.4 819.6,851.4 820.6,851.5 821.6,851.6 822.6,851.6 823.6,851.7 824.6,851.8 825.6,851.8 826.6,851.9 827.6,852.0 828.6,852.0 829.6,852.1 830.6,852.1 831.6,852.2 832.6,852.2 833.6,852.3 834.6,852.3 835.6,852.4 836.6,852.4 837.6,852.5 838.6,852.5 839.6,852.6 840.6,852.6 841.6,852.7 842.6,852.7 843.6,852.7 844.6,852.8 845.6,852.8 846.6,852.8 847.6,852.9 848.6,852.9 849.6,852.9 850.6,853.0 851.6,853.0 852.6,853.0 853.6,853.1 854.6,853.1 855.6,853.1 856.6,853.1 857.6,853.1 858.6,853.2 859.6,853.2 860.6,853.2 861.6,853.2 862.6,853.2 863.6,853.2 864.6,853.2 865.6,853.3 866.6,853.3 867.6,853.3 868.6,853.3 869.6,853.3 870.6,853.3 871.6,853.3 872.6,853.3 873.6,853.3 874.6,853.2 875.6,853.2 876.6,853.2 877.6,853.2 878.6,853.2 879.6,853.2 880.6,853.1 881.6,853.1 882.6,853.1 883.6,853.0 884.6,853.0 885.6,853.0 886.6,852.9 887.6,852.9 888.6,852.8 889.6,852.8 890.6,852.7 891.6,852.7 892.6,852.6 893.6,852.6 894.6,852.5 895.6,852.4 896.6,852.4 897.6,852.3 898.6,852.2 899.6,852.1 900.6,852.1 901.6,852.0 902.6,851.9 903.6,851.8 904.6,851.8 905.6,851.7 906.6,851.6 907.6,851.5 908.6,851.5 909.6,851.4 910.6,851.3 911.6,851.3 912.6,851.2 913.6,851.2 914.6,851.1 915.6,851.1 916.6,851.1 917.6,851.0 918.6,851.0 919.6,851.0 920.6,851.0 921.6,851.0 922.6,851.0 923.6,851.0 924.6,851.0 925.6,851.1 926.6,851.1 927.6,851.1 928.6,851.2 929.6,851.2 930.6,851.3 931.6,851.4 932.6,851.4 933.6,851.5 934.6,851.6 935.6,851.7 936.6,851.8 937.6,851.8 938.6,851.9 939.6,852.0 940.6,852.1 941.6,852.2 942.6,852.3 943.6,852.4 944.6,852.5 945.6,852.6 946.6,852.6 947.6,852.7 948.6,852.8 949.6,852.9 950.6,853.0 951.6,853.0 952.6,853.1 953.6,853.2 954.6,853.3 955.6,853.3 956.6,853.4 957.6,853.4 958.6,853.5 959.6,853.6 960.6,853.6 961.6,853.7 962.6,853.7 963.6,853.7 964.6,853.8 965.6,853.8 966.6,853.9 967.6,853.9 968.6,853.9 969.6,854.0 970.6,854.0 971.6,854.0 972.6,854.0 973.6,854.0 974.6,854.0 975.6,854.0 976.6,854.0 977.6,854.0 978.6,854.0 979.6,854.0 980.6,854.0 981.6,854.0 982.6,854.0 983.6,854.0 984.6,854.0 985.6,854.0 986.6,854.0 987.6,854.0 988.6,854.0 989.6,854.0 990.6,854.0 991.6,854.0 992.6,854.0 993.6,854.0" fill="none" stroke="#e014e0" stroke-width="4.6" stroke-linejoin="round"/>
<polyline points="437.6,854.0 438.6,854.0 439.6,854.0 440.6,854.0 441.6,854.0 442.6,854.0 443.6,854.0 444.6,854.0 445.6,854.0 446.6,854.0 447.6,854.0 448.6,854.0 449.6,854.0 450.6,854.0 451.6,854.0 452.6,854.0 453.6,854.0 454.6,854.0 455.6,854.0 456.6,854.0 457.6,854.0 458.6,854.0 459.6,854.0 460.6,854.0 461.6,854.0 462.6,854.0 463.6,854.0 464.6,854.0 465.6,854.0 466.6,854.0 467.6,854.0 468.6,854.0 469.6,854.0 470.6,854.0 471.6,854.0 472.6,854.0 473.6,854.0 474.6,854.0 475.6,854.0 476.6,854.0 477.6,854.0 478.6,854.0 479.6,854.0 480.6,854.0 481.6,854.0 482.6,854.0 483.6,854.0 484.6,854.0 485.6,854.0 486.6,854.0 487.6,854.0 488.6,854.0 489.6,854.0 490.6,854.0 491.6,854.0 492.6,854.0 493.6,854.0 494.6,854.0 495.6,854.0 496.6,854.0 497.6,854.0 498.6,854.0 499.6,854.0 500.6,854.0 501.6,854.0 502.6,854.0 503.6,854.0 504.6,854.0 505.6,854.0 506.6,854.0 507.6,854.0 508.6,854.0 509.6,854.0 510.6,854.0 511.6,854.0 512.6,854.0 513.6,854.0 514.6,854.0 515.6,854.0 516.6,854.0 517.6,854.0 518.6,854.0 519.6,854.0 520.6,854.0 521.6,854.0 522.6,854.0 523.6,854.0 524.6,854.0 525.6,854.0 526.6,854.0 527.6,854.0 528.6,854.0 529.6,854.0 530.6,854.0 531.6,854.0 532.6,853.9 533.6,853.9 534.6,853.9 535.6,853.8 536.6,853.8 537.6,853.7 538.6,853.7 539.6,853.6 540.6,853.5 541.6,853.5 542.6,853.4 543.6,853.3 544.6,853.2 545.6,853.1 546.6,853.0 547.6,852.9 548.6,852.8 549.6,852.7 550.6,852.6 551.6,852.5 552.6,852.3 553.6,852.2 554.6,852.0 555.6,851.9 556.6,851.7 557.6,851.5 558.6,851.3 559.6,851.1 560.6,850.9 561.6,850.7 562.6,850.5 563.6,850.2 564.6,850.0 565.6,849.7 566.6,849.4 567.6,849.1 568.6,848.8 569.6,848.5 570.6,848.1 571.6,847.8 572.6,847.4 573.6,847.0 574.6,846.6 575.6,846.1 576.6,845.6 577.6,845.1 578.6,844.5 579.6,843.9 580.6,843.3 581.6,842.6 582.6,841.9 583.6,841.1 584.6,840.3 585.6,839.4 586.6,838.4 587.6,837.4 588.6,836.3 589.6,835.0 590.6,833.7 591.6,832.4 592.6,830.8 593.6,829.2 594.6,827.5 595.6,825.7 596.6,823.7 597.6,821.6 598.6,819.3 599.6,816.9 600.6,814.3 601.6,811.6 602.6,808.7 603.6,805.7 604.6,802.5 605.6,799.1 606.6,795.5 607.6,791.8 608.6,787.9 609.6,783.9 610.6,779.7 611.6,775.4 612.6,771.0 613.6,766.5 614.6,761.9 615.6,757.3 616.6,752.6 617.6,748.0 618.6,743.4 619.6,738.9 620.6,734.6 621.6,730.4 622.6,726.4 623.6,722.7 624.6,719.3 625.6,716.3 626.6,713.6 627.6,711.4 628.6,709.6 629.6,708.3 630.6,707.5 631.6,707.2 632.6,707.5 633.6,708.2 634.6,709.4 635.6,711.1 636.6,713.2 637.6,716.5 638.6,719.9 639.6,723.5 640.6,727.2 641.6,730.9 642.6,734.6 643.6,738.3 644.6,742.1 645.6,745.8 646.6,749.5 647.6,753.3 648.6,757.1 649.6,761.0 650.6,764.7 651.6,768.5 652.6,772.2 653.6,776.0 654.6,779.7 655.6,783.4 656.6,787.2 657.6,790.9 658.6,794.6 659.6,798.4 660.6,802.1 661.6,805.4 662.6,808.3 663.6,810.9 664.6,813.1 665.6,815.2 666.6,817.0 667.6,818.8 668.6,820.5 669.6,822.1 670.6,823.5 671.6,824.9 672.6,826.1 673.6,827.1 674.6,828.0 675.6,828.6 676.6,829.2 677.6,829.7 678.6,830.3 679.6,830.8 680.6,831.3 681.6,831.8 682.6,832.2 683.6,832.7 684.6,833.1 685.6,833.4 686.6,833.8 687.6,834.1 688.6,834.3 689.6,834.5 690.6,834.7 691.6,835.0 692.6,835.2 693.6,835.4 694.6,835.6 695.6,835.8 696.6,836.0 697.6,836.2 698.6,836.4 699.6,836.6 700.6,836.9 701.6,837.0 702.6,837.2 703.6,837.4 704.6,837.6 705.6,837.8 706.6,838.0 707.6,838.2 708.6,838.3 709.6,838.5 710.6,838.6 711.6,838.8 712.6,838.9 713.6,839.1 714.6,839.2 715.6,839.4 716.6,839.5 717.6,839.6 718.6,839.8 719.6,839.9 720.6,840.1 721.6,840.2 722.6,840.4 723.6,840.5 724.6,840.7 725.6,840.8 726.6,841.0 727.6,841.1 728.6,841.3 729.6,841.6 730.6,841.9 731.6,842.1 732.6,842.4 733.6,842.5 734.6,842.6 735.6,842.6 736.6,842.6 737.6,842.6 738.6,842.6 739.6,842.5 740.6,842.4 741.6,842.3 742.6,842.2 743.6,842.1 744.6,841.9 745.6,841.7 746.6,841.5 747.6,841.3 748.6,841.0 749.6,840.8 750.6,840.5 751.6,840.2 752.6,840.0 753.6,839.7 754.6,839.4 755.6,839.2 756.6,838.9 757.6,838.7 758.6,838.5 759.6,838.4 760.6,838.2 761.6,838.1 762.6,838.0 763.6,838.0 764.6,838.0 765.6,838.1 766.6,838.2 767.6,838.3 768.6,838.5 769.6,838.7 770.6,839.0 771.6,839.3 772.6,839.6 773.6,839.9 774.6,840.2 775.6,840.6 776.6,841.0 777.6,841.4 778.6,841.8 779.6,842.2 780.6,842.5 781.6,842.9 782.6,843.3 783.6,843.7 784.6,844.1 785.6,844.4 786.6,844.7 787.6,845.1 788.6,845.4 789.6,845.7 790.6,846.0 791.6,846.3 792.6,846.5 793.6,846.8 794.6,847.0 795.6,847.2 796.6,847.4 797.6,847.6 798.6,847.8 799.6,848.0 800.6,848.2 801.6,848.3 802.6,848.5 803.6,848.6 804.6,848.7 805.6,848.9 806.6,849.0 807.6,849.1 808.6,849.2 809.6,849.3 810.6,849.3 811.6,849.4 812.6,849.5 813.6,849.6 814.6,849.6 815.6,849.7 816.6,849.8 817.6,849.8 818.6,849.9 819.6,849.9 820.6,850.0 821.6,850.0 822.6,850.0 823.6,850.1 824.6,850.1 825.6,850.1 826.6,850.2 827.6,850.2 828.6,850.2 829.6,850.2 830.6,850.3 831.6,850.3 832.6,850.3 833.6,850.3 834.6,850.4 835.6,850.4 836.6,850.4 837.6,850.4 838.6,850.4 839.6,850.4 840.6,850.5 841.6,850.5 842.6,850.5 843.6,850.5 844.6,850.5 845.6,850.5 846.6,850.5 847.6,850.6 848.6,850.6 849.6,850.6 850.6,850.6 851.6,850.6 852.6,850.6 853.6,850.7 854.6,850.7 855.6,850.7 856.6,850.7 857.6,850.7 858.6,850.7 859.6,850.7 860.6,850.8 861.6,850.8 862.6,850.8 863.6,850.8 864.6,850.8 865.6,850.9 866.6,850.9 867.6,850.9 868.6,850.9 869.6,850.9 870.6,851.0 871.6,851.0 872.6,851.0 873.6,851.0 874.6,851.0 875.6,851.1 876.6,851.1 877.6,851.1 878.6,851.1 879.6,851.1 880.6,851.2 881.6,851.2 882.6,851.2 883.6,851.2 884.6,851.3 885.6,851.3 886.6,851.3 887.6,851.3 888.6,851.4 889.6,851.4 890.6,851.4 891.6,851.4 892.6,851.4 893.6,851.5 894.6,851.5 895.6,851.5 896.6,851.5 897.6,851.6 898.6,851.6 899.6,851.6 900.6,851.7 901.6,851.7 902.6,851.7 903.6,851.7 904.6,851.8 905.6,851.8 906.6,851.8 907.6,851.8 908.6,851.9 909.6,851.9 910.6,851.9 911.6,851.9 912.6,852.0 913.6,852.0 914.6,852.0 915.6,852.0 916.6,852.1 917.6,852.1 918.6,852.1 919.6,852.1 920.6,852.2 921.6,852.2 922.6,852.2 923.6,852.2 924.6,852.3 925.6,852.3 926.6,852.3 927.6,852.3 928.6,852.4 929.6,852.4 930.6,852.4 931.6,852.4 932.6,852.5 933.6,852.5 934.6,852.5 935.6,852.5 936.6,852.6 937.6,852.6 938.6,852.6 939.6,852.6 940.6,852.6 941.6,852.7 942.6,852.7 943.6,852.7 944.6,852.7 945.6,852.8 946.6,852.8 947.6,852.8 948.6,852.8 949.6,852.8 950.6,852.9 951.6,852.9 952.6,852.9 953.6,852.9 954.6,852.9 955.6,853.0 956.6,853.0 957.6,853.0 958.6,853.0 959.6,853.0 960.6,853.1 961.6,853.1 962.6,853.1 963.6,853.1 964.6,853.1 965.6,853.2 966.6,853.2 967.6,853.2 968.6,853.2 969.6,853.2 970.6,853.2 971.6,853.3 972.6,853.3 973.6,853.3 974.6,853.3 975.6,853.3 976.6,853.3 977.6,853.4 978.6,853.4 979.6,853.4 980.6,853.4 981.6,853.4 982.6,853.4 983.6,853.4 984.6,853.5 985.6,853.5 986.6,853.5 987.6,853.5 988.6,853.5 989.6,853.5 990.6,853.5 991.6,853.6 992.6,853.6 993.6,853.6" fill="none" stroke="#26eee6" stroke-width="4.6" stroke-linejoin="round"/>
<polyline points="437.6,854.0 438.6,854.0 439.6,854.0 440.6,854.0 441.6,854.0 442.6,854.0 443.6,854.0 444.6,854.0 445.6,854.0 446.6,854.0 447.6,854.0 448.6,854.0 449.6,854.0 450.6,854.0 451.6,854.0 452.6,854.0 453.6,854.0 454.6,854.0 455.6,854.0 456.6,854.0 457.6,854.0 458.6,854.0 459.6,854.0 460.6,854.0 461.6,854.0 462.6,854.0 463.6,854.0 464.6,854.0 465.6,854.0 466.6,854.0 467.6,854.0 468.6,854.0 469.6,854.0 470.6,854.0 471.6,854.0 472.6,854.0 473.6,854.0 474.6,854.0 475.6,854.0 476.6,854.0 477.6,854.0 478.6,854.0 479.6,854.0 480.6,854.0 481.6,854.0 482.6,854.0 483.6,854.0 484.6,854.0 485.6,854.0 486.6,854.0 487.6,854.0 488.6,854.0 489.6,854.0 490.6,854.0 491.6,854.0 492.6,854.0 493.6,854.0 494.6,854.0 495.6,854.0 496.6,854.0 497.6,854.0 498.6,854.0 499.6,854.0 500.6,854.0 501.6,854.0 502.6,854.0 503.6,854.0 504.6,854.0 505.6,854.0 506.6,854.0 507.6,854.0 508.6,854.0 509.6,854.0 510.6,854.0 511.6,854.0 512.6,854.0 513.6,854.0 514.6,854.0 515.6,854.0 516.6,854.0 517.6,854.0 518.6,854.0 519.6,854.0 520.6,854.0 521.6,854.0 522.6,854.0 523.6,853.9 524.6,853.9 525.6,853.8 526.6,853.8 527.6,853.7 528.6,853.7 529.6,853.6 530.6,853.6 531.6,853.5 532.6,853.4 533.6,853.3 534.6,853.3 535.6,853.2 536.6,853.1 537.6,853.0 538.6,852.9 539.6,852.7 540.6,852.6 541.6,852.5 542.6,852.3 543.6,852.2 544.6,852.0 545.6,851.9 546.6,851.7 547.6,851.5 548.6,851.2 549.6,851.0 550.6,850.8 551.6,850.5 552.6,850.2 553.6,849.9 554.6,849.6 555.6,849.2 556.6,848.9 557.6,848.5 558.6,848.0 559.6,847.6 560.6,847.1 561.6,846.6 562.6,846.0 563.6,845.4 564.6,844.8 565.6,844.1 566.6,843.3 567.6,842.6 568.6,841.7 569.6,840.8 570.6,839.9 571.6,838.8 572.6,837.8 573.6,836.6 574.6,835.3 575.6,834.0 576.6,832.6 577.6,831.1 578.6,829.5 579.6,827.8 580.6,825.9 581.6,824.0 582.6,821.9 583.6,819.7 584.6,817.4 585.6,814.9 586.6,812.2 587.6,809.4 588.6,806.4 589.6,803.3 590.6,800.0 591.6,796.4 592.6,792.7 593.6,788.8 594.6,784.7 595.6,780.3 596.6,775.7 597.6,771.0 598.6,765.9 599.6,760.7 600.6,755.2 601.6,749.5 602.6,743.6 603.6,737.4 604.6,731.0 605.6,724.5 606.6,717.7 607.6,710.8 608.6,703.7 609.6,696.5 610.6,689.2 611.6,681.8 612.6,674.4 613.6,667.0 614.6,659.6 615.6,652.3 616.6,645.2 617.6,638.2 618.6,631.5 619.6,625.0 620.6,618.9 621.6,613.1 622.6,607.8 623.6,603.0 624.6,598.7 625.6,595.0 626.6,591.8 627.6,589.4 628.6,587.6 629.6,586.5 630.6,586.1 631.6,586.4 632.6,587.3 633.6,589.0 634.6,591.4 635.6,594.4 636.6,598.0 637.6,602.1 638.6,606.9 639.6,612.1 640.6,617.7 641.6,623.7 642.6,630.1 643.6,636.7 644.6,643.6 645.6,650.7 646.6,657.9 647.6,665.1 648.6,672.4 649.6,679.7 650.6,687.0 651.6,694.2 652.6,701.2 653.6,708.2 654.6,714.9 655.6,721.5 656.6,727.9 657.6,734.1 658.6,741.1 659.6,749.1 660.6,757.1 661.6,764.2 662.6,769.6 663.6,773.2 664.6,776.4 665.6,779.2 666.6,781.9 667.6,784.6 668.6,787.5 669.6,790.6 670.6,793.6 671.6,796.6 672.6,799.3 673.6,801.7 674.6,803.5 675.6,805.0 676.6,806.2 677.6,807.2 678.6,808.0 679.6,808.7 680.6,809.2 681.6,809.7 682.6,810.2 683.6,810.7 684.6,811.3 685.6,811.9 686.6,812.5 687.6,813.1 688.6,813.7 689.6,814.3 690.6,814.9 691.6,815.5 692.6,816.1 693.6,816.6 694.6,817.2 695.6,817.8 696.6,818.4 697.6,818.9 698.6,819.5 699.6,820.1 700.6,820.7 701.6,821.2 702.6,821.8 703.6,822.3 704.6,822.8 705.6,823.3 706.6,823.8 707.6,824.2 708.6,824.6 709.6,825.0 710.6,825.3 711.6,825.5 712.6,825.7 713.6,825.9 714.6,826.0 715.6,826.2 716.6,826.3 717.6,826.5 718.6,826.7 719.6,826.9 720.6,827.1 721.6,827.3 722.6,827.6 723.6,827.8 724.6,828.0 725.6,828.1 726.6,828.2 727.6,828.3 728.6,828.2 729.6,828.1 730.6,827.9 731.6,827.6 732.6,827.1 733.6,826.5 734.6,825.8 735.6,825.0 736.6,824.1 737.6,823.3 738.6,822.4 739.6,821.5 740.6,820.7 741.6,820.0 742.6,819.2 743.6,818.4 744.6,817.6 745.6,816.6 746.6,815.4 747.6,814.3 748.6,813.1 749.6,812.0 750.6,810.9 751.6,809.8 752.6,808.7 753.6,807.7 754.6,806.7 755.6,805.8 756.6,805.0 757.6,804.3 758.6,803.7 759.6,803.1 760.6,802.7 761.6,802.5 762.6,802.3 763.6,802.3 764.6,802.4 765.6,802.6 766.6,803.0 767.6,803.4 768.6,804.0 769.6,804.7 770.6,805.5 771.6,806.4 772.6,807.4 773.6,808.4 774.6,809.5 775.6,810.7 776.6,811.9 777.6,813.1 778.6,814.4 779.6,815.7 780.6,816.9 781.6,818.2 782.6,819.5 783.6,820.7 784.6,822.0 785.6,823.2 786.6,824.4 787.6,825.5 788.6,826.7 789.6,827.8 790.6,828.8 791.6,829.9 792.6,830.8 793.6,831.8 794.6,832.7 795.6,833.6 796.6,834.5 797.6,835.3 798.6,836.1 799.6,836.8 800.6,837.5 801.6,838.2 802.6,838.8 803.6,839.5 804.6,840.1 805.6,840.6 806.6,841.2 807.6,841.7 808.6,842.1 809.6,842.6 810.6,843.0 811.6,843.4 812.6,843.8 813.6,844.2 814.6,844.5 815.6,844.9 816.6,845.2 817.6,845.4 818.6,845.7 819.6,846.0 820.6,846.2 821.6,846.4 822.6,846.6 823.6,846.7 824.6,846.9 825.6,847.0 826.6,847.1 827.6,847.2 828.6,847.3 829.6,847.3 830.6,847.4 831.6,847.4 832.6,847.3 833.6,847.3 834.6,847.2 835.6,847.1 836.6,847.0 837.6,846.8 838.6,846.7 839.6,846.5 840.6,846.4 841.6,846.2 842.6,846.0 843.6,845.9 844.6,845.7 845.6,845.6 846.6,845.6 847.6,845.5 848.6,845.5 849.6,845.5 850.6,845.6 851.6,845.7 852.6,845.9 853.6,846.1 854.6,846.3 855.6,846.5 856.6,846.7 857.6,846.9 858.6,847.2 859.6,847.4 860.6,847.7 861.6,847.9 862.6,848.1 863.6,848.3 864.6,848.4 865.6,848.6 866.6,848.7 867.6,848.9 868.6,849.0 869.6,849.1 870.6,849.1 871.6,849.2 872.6,849.3 873.6,849.3 874.6,849.4 875.6,849.4 876.6,849.4 877.6,849.5 878.6,849.5 879.6,849.5 880.6,849.5 881.6,849.6 882.6,849.6 883.6,849.6 884.6,849.6 885.6,849.6 886.6,849.7 887.6,849.7 888.6,849.7 889.6,849.7 890.6,849.7 891.6,849.7 892.6,849.8 893.6,849.8 894.6,849.8 895.6,849.8 896.6,849.8 897.6,849.9 898.6,849.9 899.6,849.9 900.6,850.0 901.6,850.0 902.6,850.0 903.6,850.0 904.6,850.1 905.6,850.1 906.6,850.1 907.6,850.2 908.6,850.2 909.6,850.2 910.6,850.3 911.6,850.3 912.6,850.4 913.6,850.4 914.6,850.4 915.6,850.5 916.6,850.5 917.6,850.6 918.6,850.6 919.6,850.7 920.6,850.7 921.6,850.7 922.6,850.8 923.6,850.8 924.6,850.9 925.6,850.9 926.6,851.0 927.6,851.0 928.6,851.1 929.6,851.1 930.6,851.2 931.6,851.2 932.6,851.2 933.6,851.3 934.6,851.3 935.6,851.4 936.6,851.4 937.6,851.5 938.6,851.5 939.6,851.6 940.6,851.6 941.6,851.7 942.6,851.7 943.6,851.8 944.6,851.8 945.6,851.8 946.6,851.9 947.6,851.9 948.6,852.0 949.6,852.0 950.6,852.1 951.6,852.1 952.6,852.1 953.6,852.2 954.6,852.2 955.6,852.3 956.6,852.3 957.6,852.4 958.6,852.4 959.6,852.4 960.6,852.5 961.6,852.5 962.6,852.5 963.6,852.6 964.6,852.6 965.6,852.6 966.6,852.7 967.6,852.7 968.6,852.8 969.6,852.8 970.6,852.8 971.6,852.9 972.6,852.9 973.6,852.9 974.6,852.9 975.6,853.0 976.6,853.0 977.6,853.0 978.6,853.1 979.6,853.1 980.6,853.1 981.6,853.2 982.6,853.2 983.6,853.2 984.6,853.2 985.6,853.3 986.6,853.3 987.6,853.3 988.6,853.3 989.6,853.4 990.6,853.4 991.6,853.4 992.6,853.4 993.6,853.4" fill="none" stroke="#1212e2" stroke-width="4.6" stroke-linejoin="round"/>
<polyline points="437.6,854.0 438.6,854.0 439.6,854.0 440.6,854.0 441.6,854.0 442.6,854.0 443.6,854.0 444.6,854.0 445.6,854.0 446.6,854.0 447.6,854.0 448.6,854.0 449.6,854.0 450.6,854.0 451.6,854.0 452.6,854.0 453.6,854.0 454.6,854.0 455.6,854.0 456.6,854.0 457.6,854.0 458.6,854.0 459.6,854.0 460.6,854.0 461.6,854.0 462.6,854.0 463.6,854.0 464.6,854.0 465.6,854.0 466.6,854.0 467.6,854.0 468.6,854.0 469.6,854.0 470.6,854.0 471.6,854.0 472.6,854.0 473.6,854.0 474.6,854.0 475.6,854.0 476.6,854.0 477.6,854.0 478.6,854.0 479.6,854.0 480.6,854.0 481.6,854.0 482.6,854.0 483.6,854.0 484.6,854.0 485.6,854.0 486.6,854.0 487.6,854.0 488.6,854.0 489.6,854.0 490.6,854.0 491.6,854.0 492.6,854.0 493.6,854.0 494.6,854.0 495.6,854.0 496.6,854.0 497.6,854.0 498.6,854.0 499.6,854.0 500.6,854.0 501.6,854.0 502.6,854.0 503.6,854.0 504.6,853.9 505.6,853.9 506.6,853.9 507.6,853.8 508.6,853.8 509.6,853.8 510.6,853.7 511.6,853.7 512.6,853.6 513.6,853.6 514.6,853.5 515.6,853.5 516.6,853.4 517.6,853.3 518.6,853.3 519.6,853.2 520.6,853.1 521.6,853.1 522.6,853.1 523.6,853.3 524.6,853.5 525.6,853.7 526.6,853.7 527.6,853.6 528.6,853.4 529.6,853.2 530.6,852.9 531.6,852.7 532.6,852.5 533.6,852.2 534.6,851.9 535.6,851.6 536.6,851.4 537.6,851.1 538.6,850.8 539.6,850.5 540.6,850.2 541.6,849.8 542.6,849.5 543.6,849.2 544.6,848.9 545.6,848.6 546.6,848.3 547.6,847.9 548.6,847.5 549.6,847.0 550.6,846.5 551.6,845.9 552.6,845.3 553.6,844.7 554.6,844.1 555.6,843.5 556.6,842.9 557.6,842.3 558.6,841.7 559.6,841.3 560.6,840.9 561.6,840.5 562.6,840.1 563.6,839.6 564.6,839.1 565.6,838.4 566.6,837.6 567.6,836.7 568.6,835.5 569.6,834.1 570.6,832.5 571.6,830.7 572.6,828.6 573.6,826.3 574.6,823.7 575.6,821.1 576.6,818.5 577.6,815.8 578.6,813.2 579.6,810.6 580.6,807.9 581.6,805.1 582.6,802.2 583.6,799.1 584.6,795.8 585.6,792.3 586.6,788.6 587.6,784.7 588.6,780.6 589.6,776.2 590.6,771.6 591.6,766.8 592.6,761.7 593.6,756.3 594.6,750.6 595.6,744.7 596.6,738.5 597.6,732.0 598.6,725.1 599.6,718.0 600.6,710.6 601.6,702.9 602.6,694.8 603.6,686.5 604.6,677.9 605.6,669.1 606.6,660.0 607.6,650.7 608.6,641.2 609.6,631.6 610.6,621.9 611.6,612.0 612.6,602.2 613.6,592.4 614.6,582.7 615.6,573.2 616.6,563.9 617.6,554.9 618.6,546.3 619.6,538.1 620.6,530.5 621.6,523.4 622.6,517.0 623.6,511.4 624.6,506.6 625.6,502.5 626.6,499.4 627.6,497.2 628.6,496.0 629.6,495.7 630.6,496.4 631.6,498.0 632.6,500.6 633.6,504.1 634.6,508.4 635.6,513.6 636.6,519.5 637.6,526.1 638.6,533.4 639.6,541.1 640.6,549.4 641.6,558.1 642.6,567.1 643.6,576.3 644.6,585.7 645.6,595.3 646.6,604.9 647.6,614.4 648.6,624.0 649.6,633.4 650.6,642.7 651.6,651.8 652.6,660.6 653.6,669.3 654.6,677.6 655.6,685.7 656.6,693.4 657.6,700.9 658.6,708.0 659.6,714.8 660.6,721.3 661.6,727.8 662.6,734.3 663.6,740.8 664.6,747.3 665.6,753.8 666.6,760.2 667.6,764.8 668.6,767.7 669.6,770.3 670.6,773.1 671.6,775.9 672.6,778.5 673.6,781.0 674.6,783.2 675.6,784.9 676.6,786.5 677.6,787.9 678.6,789.3 679.6,790.6 680.6,791.8 681.6,792.8 682.6,793.8 683.6,794.7 684.6,795.7 685.6,796.6 686.6,797.5 687.6,798.4 688.6,799.2 689.6,800.1 690.6,800.9 691.6,801.7 692.6,802.4 693.6,803.2 694.6,803.9 695.6,804.6 696.6,805.3 697.6,806.0 698.6,806.7 699.6,807.3 700.6,808.0 701.6,808.7 702.6,809.3 703.6,809.9 704.6,810.6 705.6,811.1 706.6,811.7 707.6,812.2 708.6,812.7 709.6,813.1 710.6,813.5 711.6,813.9 712.6,814.3 713.6,814.7 714.6,815.0 715.6,815.4 716.6,815.7 717.6,816.0 718.6,816.3 719.6,816.6 720.6,816.8 721.6,816.9 722.6,817.0 723.6,816.8 724.6,816.6 725.6,816.2 726.6,815.7 727.6,815.1 728.6,814.3 729.6,813.3 730.6,812.1 731.6,810.7 732.6,809.2 733.6,807.5 734.6,805.7 735.6,803.7 736.6,801.7 737.6,799.7 738.6,797.6 739.6,795.2 740.6,792.8 741.6,790.3 742.6,787.8 743.6,785.3 744.6,783.0 745.6,780.8 746.6,778.9 747.6,777.5 748.6,776.5 749.6,775.5 750.6,774.3 751.6,772.5 752.6,770.2 753.6,768.0 754.6,765.9 755.6,764.0 756.6,762.2 757.6,760.6 758.6,759.2 759.6,758.0 760.6,757.1 761.6,756.5 762.6,756.1 763.6,755.9 764.6,756.1 765.6,756.5 766.6,757.3 767.6,758.3 768.6,759.5 769.6,761.0 770.6,762.7 771.6,764.6 772.6,766.7 773.6,768.9 774.6,771.3 775.6,773.8 776.6,776.3 777.6,779.0 778.6,781.7 779.6,784.4 780.6,787.1 781.6,789.8 782.6,792.4 783.6,795.1 784.6,797.7 785.6,800.2 786.6,802.6 787.6,805.0 788.6,807.3 789.6,809.5 790.6,811.6 791.6,813.7 792.6,815.6 793.6,817.5 794.6,819.3 795.6,820.9 796.6,822.5 797.6,824.0 798.6,825.5 799.6,826.8 800.6,828.1 801.6,829.3 802.6,830.4 803.6,831.5 804.6,832.5 805.6,833.4 806.6,834.3 807.6,835.1 808.6,835.9 809.6,836.6 810.6,837.3 811.6,837.9 812.6,838.5 813.6,839.0 814.6,839.5 815.6,840.0 816.6,840.4 817.6,840.8 818.6,841.2 819.6,841.5 820.6,841.8 821.6,842.1 822.6,842.4 823.6,842.6 824.6,842.8 825.6,843.0 826.6,843.2 827.6,843.4 828.6,843.5 829.6,843.6 830.6,843.8 831.6,843.9 832.6,844.0 833.6,844.0 834.6,844.1 835.6,844.2 836.6,844.2 837.6,844.3 838.6,844.3 839.6,844.3 840.6,844.4 841.6,844.4 842.6,844.4 843.6,844.4 844.6,844.4 845.6,844.4 846.6,844.4 847.6,844.4 848.6,844.4 849.6,844.4 850.6,844.4 851.6,844.3 852.6,844.3 853.6,844.3 854.6,844.3 855.6,844.3 856.6,844.3 857.6,844.3 858.6,844.3 859.6,844.3 860.6,844.3 861.6,844.3 862.6,844.3 863.6,844.3 864.6,844.3 865.6,844.3 866.6,844.3 867.6,844.3 868.6,844.3 869.6,844.3 870.6,844.4 871.6,844.4 872.6,844.4 873.6,844.5 874.6,844.5 875.6,844.5 876.6,844.6 877.6,844.6 878.6,844.7 879.6,844.8 880.6,844.8 881.6,844.9 882.6,844.9 883.6,845.0 884.6,845.1 885.6,845.2 886.6,845.2 887.6,845.3 888.6,845.4 889.6,845.5 890.6,845.6 891.6,845.7 892.6,845.8 893.6,845.8 894.6,845.9 895.6,846.0 896.6,846.1 897.6,846.2 898.6,846.3 899.6,846.4 900.6,846.5 901.6,846.6 902.6,846.7 903.6,846.8 904.6,846.9 905.6,847.0 906.6,847.1 907.6,847.2 908.6,847.3 909.6,847.4 910.6,847.5 911.6,847.6 912.6,847.7 913.6,847.8 914.6,847.9 915.6,848.0 916.6,848.1 917.6,848.2 918.6,848.3 919.6,848.4 920.6,848.5 921.6,848.6 922.6,848.7 923.6,848.8 924.6,848.9 925.6,849.0 926.6,849.0 927.6,849.1 928.6,849.2 929.6,849.3 930.6,849.4 931.6,849.5 932.6,849.5 933.6,849.6 934.6,849.7 935.6,849.8 936.6,849.9 937.6,849.9 938.6,850.0 939.6,850.1 940.6,850.2 941.6,850.2 942.6,850.3 943.6,850.4 944.6,850.4 945.6,850.5 946.6,850.6 947.6,850.6 948.6,850.7 949.6,850.8 950.6,850.8 951.6,850.9 952.6,850.9 953.6,851.0 954.6,851.0 955.6,851.1 956.6,851.2 957.6,851.2 958.6,851.3 959.6,851.3 960.6,851.4 961.6,851.4 962.6,851.5 963.6,851.5 964.6,851.6 965.6,851.6 966.6,851.7 967.6,851.7 968.6,851.8 969.6,851.8 970.6,851.8 971.6,851.9 972.6,851.9 973.6,852.0 974.6,852.0 975.6,852.0 976.6,852.1 977.6,852.1 978.6,852.2 979.6,852.2 980.6,852.2 981.6,852.3 982.6,852.3 983.6,852.3 984.6,852.4 985.6,852.4 986.6,852.4 987.6,852.5 988.6,852.5 989.6,852.5 990.6,852.6 991.6,852.6 992.6,852.6 993.6,852.7" fill="none" stroke="#1eee1e" stroke-width="4.6" stroke-linejoin="round"/>
<polyline points="437.6,854.0 438.6,854.0 439.6,854.0 440.6,854.0 441.6,854.0 442.6,854.0 443.6,854.0 444.6,854.0 445.6,854.0 446.6,854.0 447.6,854.0 448.6,854.0 449.6,854.0 450.6,854.0 451.6,854.0 452.6,854.0 453.6,854.0 454.6,854.0 455.6,854.0 456.6,854.0 457.6,854.0 458.6,854.0 459.6,854.0 460.6,854.0 461.6,854.0 462.6,854.0 463.6,854.0 464.6,854.0 465.6,854.0 466.6,854.0 467.6,854.0 468.6,854.0 469.6,854.0 470.6,854.0 471.6,854.0 472.6,854.0 473.6,854.0 474.6,854.0 475.6,854.0 476.6,854.0 477.6,854.0 478.6,854.0 479.6,854.0 480.6,854.0 481.6,854.0 482.6,854.0 483.6,854.0 484.6,854.0 485.6,854.0 486.6,854.0 487.6,854.0 488.6,854.0 489.6,853.9 490.6,853.9 491.6,853.9 492.6,854.0 493.6,854.0 494.6,854.0 495.6,854.0 496.6,854.0 497.6,854.0 498.6,853.9 499.6,853.8 500.6,853.6 501.6,853.5 502.6,853.3 503.6,853.1 504.6,852.9 505.6,852.7 506.6,852.5 507.6,852.2 508.6,852.0 509.6,851.8 510.6,851.5 511.6,851.3 512.6,851.1 513.6,850.8 514.6,850.6 515.6,850.3 516.6,850.1 517.6,849.8 518.6,849.6 519.6,849.3 520.6,849.1 521.6,848.8 522.6,848.6 523.6,848.3 524.6,848.1 525.6,847.8 526.6,847.6 527.6,847.3 528.6,847.0 529.6,846.7 530.6,846.5 531.6,846.2 532.6,845.9 533.6,845.6 534.6,845.3 535.6,845.0 536.6,844.7 537.6,844.4 538.6,844.1 539.6,843.8 540.6,843.5 541.6,843.2 542.6,842.9 543.6,842.6 544.6,842.3 545.6,841.9 546.6,841.5 547.6,841.1 548.6,840.6 549.6,840.1 550.6,839.5 551.6,838.9 552.6,838.2 553.6,837.5 554.6,836.7 555.6,835.9 556.6,835.2 557.6,834.5 558.6,833.8 559.6,833.0 560.6,832.1 561.6,831.1 562.6,829.6 563.6,827.8 564.6,826.1 565.6,824.7 566.6,823.5 567.6,821.8 568.6,819.3 569.6,816.0 570.6,812.2 571.6,808.2 572.6,804.4 573.6,801.0 574.6,798.0 575.6,794.9 576.6,791.6 577.6,788.1 578.6,784.4 579.6,780.5 580.6,776.4 581.6,772.1 582.6,767.6 583.6,762.8 584.6,757.8 585.6,752.5 586.6,747.0 587.6,741.2 588.6,735.1 589.6,728.7 590.6,722.0 591.6,715.0 592.6,707.6 593.6,700.0 594.6,691.9 595.6,683.6 596.6,674.9 597.6,665.8 598.6,656.4 599.6,646.7 600.6,636.6 601.6,626.2 602.6,615.5 603.6,604.4 604.6,593.1 605.6,581.5 606.6,569.7 607.6,557.7 608.6,545.6 609.6,533.3 610.6,521.0 611.6,508.8 612.6,496.6 613.6,484.5 614.6,472.7 615.6,461.2 616.6,450.1 617.6,439.5 618.6,429.5 619.6,420.1 620.6,411.5 621.6,403.8 622.6,396.9 623.6,391.1 624.6,386.3 625.6,382.6 626.6,380.1 627.6,378.8 628.6,378.7 629.6,379.7 630.6,382.0 631.6,385.4 632.6,389.9 633.6,395.5 634.6,402.1 635.6,409.6 636.6,418.0 637.6,427.2 638.6,437.0 639.6,447.4 640.6,458.3 641.6,469.6 642.6,481.2 643.6,493.1 644.6,505.1 645.6,517.2 646.6,529.3 647.6,541.4 648.6,553.3 649.6,565.1 650.6,576.7 651.6,588.1 652.6,599.2 653.6,609.9 654.6,620.4 655.6,630.5 656.6,640.3 657.6,649.7 658.6,658.7 659.6,667.3 660.6,675.3 661.6,682.5 662.6,689.2 663.6,695.4 664.6,701.3 665.6,706.8 666.6,712.2 667.6,717.3 668.6,722.3 669.6,727.1 670.6,731.8 671.6,736.3 672.6,740.7 673.6,744.9 674.6,749.0 675.6,752.8 676.6,756.3 677.6,759.6 678.6,762.6 679.6,765.2 680.6,767.4 681.6,769.2 682.6,770.5 683.6,771.7 684.6,772.9 685.6,774.0 686.6,775.2 687.6,776.3 688.6,777.3 689.6,778.4 690.6,779.4 691.6,780.4 692.6,781.4 693.6,782.4 694.6,783.4 695.6,784.3 696.6,785.3 697.6,786.2 698.6,787.1 699.6,788.1 700.6,789.0 701.6,789.9 702.6,790.7 703.6,791.6 704.6,792.4 705.6,793.1 706.6,793.7 707.6,794.2 708.6,794.5 709.6,794.8 710.6,795.0 711.6,795.1 712.6,795.2 713.6,795.2 714.6,795.1 715.6,794.9 716.6,794.6 717.6,794.1 718.6,793.6 719.6,792.9 720.6,792.2 721.6,791.4 722.6,790.4 723.6,789.2 724.6,787.9 725.6,786.3 726.6,784.6 727.6,782.7 728.6,780.8 729.6,778.8 730.6,776.8 731.6,774.4 732.6,771.3 733.6,767.3 734.6,762.8 735.6,758.1 736.6,753.3 737.6,748.4 738.6,743.5 739.6,738.5 740.6,733.3 741.6,727.9 742.6,722.3 743.6,716.7 744.6,710.9 745.6,705.1 746.6,699.2 747.6,693.3 748.6,687.5 749.6,681.7 750.6,676.1 751.6,670.6 752.6,665.4 753.6,660.5 754.6,655.9 755.6,651.7 756.6,647.9 757.6,644.6 758.6,641.9 759.6,639.7 760.6,638.1 761.6,637.1 762.6,636.7 763.6,637.0 764.6,637.8 765.6,639.3 766.6,641.4 767.6,644.1 768.6,647.3 769.6,651.0 770.6,655.1 771.6,659.6 772.6,664.5 773.6,669.7 774.6,675.2 775.6,680.8 776.6,686.6 777.6,692.5 778.6,698.4 779.6,704.4 780.6,710.3 781.6,716.2 782.6,722.1 783.6,727.6 784.6,732.9 785.6,737.9 786.6,742.5 787.6,746.8 788.6,750.8 789.6,754.6 790.6,758.4 791.6,762.2 792.6,766.0 793.6,769.7 794.6,773.4 795.6,777.2 796.6,780.9 797.6,784.4 798.6,787.8 799.6,791.0 800.6,794.0 801.6,796.8 802.6,799.3 803.6,801.7 804.6,803.8 805.6,805.8 806.6,807.7 807.6,809.5 808.6,811.2 809.6,812.7 810.6,813.9 811.6,814.9 812.6,815.9 813.6,816.9 814.6,817.9 815.6,818.8 816.6,819.8 817.6,820.7 818.6,821.7 819.6,822.6 820.6,823.6 821.6,824.5 822.6,825.3 823.6,826.2 824.6,827.0 825.6,827.7 826.6,828.3 827.6,828.9 828.6,829.4 829.6,829.8 830.6,830.1 831.6,830.4 832.6,830.6 833.6,830.8 834.6,831.0 835.6,831.1 836.6,831.2 837.6,831.3 838.6,831.4 839.6,831.5 840.6,831.5 841.6,831.6 842.6,831.6 843.6,831.6 844.6,831.7 845.6,831.8 846.6,831.9 847.6,832.1 848.6,832.3 849.6,832.4 850.6,832.6 851.6,832.8 852.6,832.9 853.6,833.1 854.6,833.3 855.6,833.5 856.6,833.7 857.6,833.8 858.6,834.0 859.6,834.2 860.6,834.4 861.6,834.6 862.6,834.8 863.6,835.0 864.6,835.2 865.6,835.5 866.6,835.7 867.6,835.9 868.6,836.1 869.6,836.3 870.6,836.5 871.6,836.7 872.6,836.9 873.6,837.2 874.6,837.4 875.6,837.6 876.6,837.8 877.6,838.0 878.6,838.2 879.6,838.4 880.6,838.6 881.6,838.8 882.6,839.0 883.6,839.3 884.6,839.5 885.6,839.7 886.6,839.9 887.6,840.1 888.6,840.2 889.6,840.4 890.6,840.6 891.6,840.8 892.6,841.0 893.6,841.2 894.6,841.4 895.6,841.6 896.6,841.7 897.6,841.9 898.6,842.1 899.6,842.3 900.6,842.4 901.6,842.6 902.6,842.8 903.6,843.0 904.6,843.1 905.6,843.3 906.6,843.4 907.6,843.6 908.6,843.8 909.6,843.9 910.6,844.1 911.6,844.2 912.6,844.4 913.6,844.5 914.6,844.7 915.6,844.8 916.6,844.9 917.6,845.1 918.6,845.2 919.6,845.4 920.6,845.5 921.6,845.6 922.6,845.8 923.6,845.9 924.6,846.0 925.6,846.1 926.6,846.3 927.6,846.4 928.6,846.5 929.6,846.6 930.6,846.8 931.6,846.9 932.6,847.0 933.6,847.1 934.6,847.2 935.6,847.3 936.6,847.4 937.6,847.5 938.6,847.7 939.6,847.8 940.6,847.9 941.6,848.0 942.6,848.1 943.6,848.2 944.6,848.3 945.6,848.4 946.6,848.5 947.6,848.6 948.6,848.7 949.6,848.7 950.6,848.8 951.6,848.9 952.6,849.0 953.6,849.1 954.6,849.2 955.6,849.3 956.6,849.4 957.6,849.4 958.6,849.5 959.6,849.6 960.6,849.7 961.6,849.8 962.6,849.8 963.6,849.9 964.6,850.0 965.6,850.1 966.6,850.1 967.6,850.2 968.6,850.3 969.6,850.3 970.6,850.4 971.6,850.5 972.6,850.5 973.6,850.6 974.6,850.7 975.6,850.7 976.6,850.8 977.6,850.9 978.6,850.9 979.6,851.0 980.6,851.0 981.6,851.1 982.6,851.2 983.6,851.2 984.6,851.3 985.6,851.3 986.6,851.4 987.6,851.4 988.6,851.5 989.6,851.5 990.6,851.6 991.6,851.6 992.6,851.7 993.6,851.7" fill="none" stroke="#e20c16" stroke-width="4.6" stroke-linejoin="round"/>
<polyline points="437.6,854.0 438.6,854.0 439.6,854.0 440.6,854.0 441.6,854.0 442.6,854.0 443.6,854.0 444.6,854.0 445.6,854.0 446.6,854.0 447.6,854.0 448.6,854.0 449.6,854.0 450.6,854.0 451.6,854.0 452.6,854.0 453.6,854.0 454.6,854.0 455.6,854.0 456.6,854.0 457.6,854.0 458.6,854.0 459.6,854.0 460.6,854.0 461.6,854.0 462.6,854.0 463.6,853.9 464.6,853.9 465.6,853.9 466.6,853.9 467.6,853.8 468.6,853.8 469.6,853.7 470.6,853.4 471.6,853.1 472.6,852.7 473.6,852.5 474.6,852.3 475.6,852.2 476.6,852.1 477.6,852.0 478.6,851.9 479.6,851.9 480.6,851.8 481.6,851.8 482.6,851.7 483.6,851.6 484.6,851.6 485.6,851.5 486.6,851.4 487.6,851.3 488.6,851.2 489.6,851.1 490.6,850.9 491.6,850.8 492.6,850.6 493.6,850.5 494.6,850.3 495.6,850.1 496.6,850.0 497.6,849.8 498.6,849.6 499.6,849.5 500.6,849.3 501.6,849.1 502.6,848.9 503.6,848.7 504.6,848.5 505.6,848.2 506.6,848.0 507.6,847.8 508.6,847.6 509.6,847.3 510.6,847.1 511.6,846.9 512.6,846.6 513.6,846.4 514.6,846.1 515.6,845.8 516.6,845.6 517.6,845.3 518.6,845.0 519.6,844.7 520.6,844.4 521.6,844.1 522.6,843.8 523.6,843.4 524.6,843.1 525.6,842.8 526.6,842.5 527.6,842.1 528.6,841.7 529.6,841.3 530.6,840.8 531.6,840.4 532.6,839.9 533.6,839.5 534.6,839.0 535.6,838.5 536.6,837.8 537.6,837.1 538.6,836.2 539.6,835.4 540.6,834.5 541.6,833.7 542.6,833.1 543.6,833.2 544.6,833.7 545.6,833.9 546.6,833.2 547.6,831.8 548.6,830.2 549.6,828.5 550.6,826.7 551.6,824.9 552.6,823.0 553.6,821.1 554.6,819.1 555.6,816.9 556.6,814.5 557.6,812.2 558.6,809.8 559.6,807.6 560.6,805.1 561.6,802.3 562.6,799.1 563.6,795.6 564.6,792.1 565.6,788.4 566.6,784.7 567.6,781.0 568.6,777.3 569.6,773.4 570.6,769.3 571.6,765.1 572.6,760.6 573.6,755.9 574.6,751.0 575.6,745.9 576.6,740.5 577.6,734.9 578.6,729.0 579.6,722.8 580.6,716.4 581.6,709.7 582.6,702.7 583.6,695.3 584.6,687.7 585.6,679.8 586.6,671.5 587.6,662.9 588.6,653.9 589.6,644.6 590.6,634.9 591.6,624.9 592.6,614.6 593.6,603.8 594.6,592.8 595.6,581.3 596.6,569.5 597.6,557.4 598.6,545.0 599.6,532.2 600.6,519.2 601.6,505.9 602.6,492.3 603.6,478.6 604.6,464.6 605.6,450.6 606.6,436.4 607.6,422.3 608.6,408.2 609.6,394.2 610.6,380.3 611.6,366.8 612.6,353.5 613.6,340.7 614.6,328.4 615.6,316.7 616.6,305.6 617.6,295.4 618.6,286.0 619.6,277.5 620.6,270.1 621.6,263.7 622.6,258.5 623.6,254.6 624.6,251.8 625.6,250.3 626.6,250.1 627.6,251.2 628.6,253.5 629.6,257.1 630.6,261.9 631.6,267.9 632.6,275.0 633.6,283.1 634.6,292.2 635.6,302.2 636.6,313.0 637.6,324.4 638.6,336.5 639.6,349.1 640.6,362.1 641.6,375.5 642.6,389.1 643.6,402.9 644.6,416.8 645.6,430.8 646.6,444.7 647.6,458.4 648.6,472.1 649.6,485.5 650.6,498.7 651.6,511.5 652.6,524.1 653.6,536.3 654.6,548.2 655.6,559.7 656.6,570.7 657.6,581.4 658.6,591.7 659.6,601.5 660.6,610.9 661.6,619.9 662.6,628.4 663.6,637.8 664.6,648.1 665.6,658.5 666.6,668.2 667.6,676.2 668.6,682.1 669.6,687.2 670.6,692.1 671.6,697.1 672.6,702.3 673.6,707.5 674.6,712.5 675.6,716.4 676.6,718.7 677.6,719.8 678.6,720.3 679.6,720.6 680.6,721.2 681.6,722.6 682.6,724.3 683.6,726.1 684.6,727.9 685.6,729.6 686.6,731.4 687.6,733.1 688.6,734.7 689.6,736.3 690.6,737.9 691.6,739.4 692.6,740.8 693.6,742.2 694.6,743.4 695.6,744.5 696.6,745.5 697.6,746.4 698.6,747.1 699.6,747.4 700.6,747.5 701.6,747.5 702.6,747.4 703.6,747.5 704.6,747.8 705.6,748.8 706.6,749.9 707.6,750.6 708.6,750.2 709.6,748.9 710.6,747.3 711.6,745.5 712.6,743.6 713.6,741.7 714.6,739.9 715.6,738.3 716.6,736.9 717.6,735.6 718.6,734.0 719.6,731.9 720.6,729.0 721.6,724.9 722.6,719.8 723.6,714.6 724.6,709.7 725.6,704.7 726.6,699.7 727.6,694.2 728.6,687.4 729.6,680.0 730.6,672.7 731.6,665.3 732.6,657.7 733.6,649.8 734.6,641.6 735.6,632.8 736.6,623.3 737.6,613.3 738.6,602.8 739.6,592.0 740.6,580.7 741.6,569.0 742.6,557.0 743.6,544.7 744.6,532.1 745.6,519.3 746.6,506.3 747.6,493.3 748.6,480.3 749.6,467.3 750.6,454.6 751.6,442.2 752.6,430.3 753.6,418.9 754.6,408.1 755.6,398.2 756.6,389.1 757.6,381.1 758.6,374.3 759.6,368.6 760.6,364.3 761.6,361.3 762.6,359.8 763.6,359.7 764.6,361.1 765.6,363.9 766.6,368.1 767.6,373.6 768.6,380.4 769.6,388.3 770.6,397.3 771.6,407.3 772.6,418.1 773.6,429.7 774.6,441.8 775.6,454.4 776.6,467.4 777.6,480.6 778.6,493.9 779.6,507.3 780.6,520.7 781.6,534.0 782.6,547.0 783.6,559.9 784.6,572.5 785.6,584.7 786.6,595.4 787.6,605.0 788.6,614.1 789.6,623.0 790.6,632.2 791.6,642.0 792.6,652.2 793.6,662.3 794.6,672.5 795.6,682.6 796.6,691.3 797.6,698.2 798.6,704.5 799.6,710.9 800.6,717.0 801.6,722.9 802.6,728.6 803.6,734.0 804.6,739.1 805.6,743.7 806.6,747.6 807.6,751.2 808.6,754.4 809.6,757.3 810.6,760.0 811.6,762.5 812.6,764.8 813.6,767.0 814.6,769.1 815.6,771.2 816.6,773.2 817.6,775.0 818.6,776.7 819.6,778.3 820.6,779.9 821.6,781.3 822.6,782.7 823.6,784.0 824.6,785.2 825.6,786.2 826.6,787.1 827.6,788.0 828.6,788.8 829.6,789.5 830.6,790.2 831.6,790.8 832.6,791.3 833.6,791.8 834.6,792.2 835.6,792.7 836.6,793.1 837.6,793.5 838.6,793.8 839.6,794.1 840.6,794.3 841.6,794.4 842.6,794.6 843.6,794.7 844.6,794.7 845.6,794.7 846.6,794.7 847.6,794.7 848.6,794.6 849.6,794.5 850.6,794.3 851.6,794.1 852.6,793.9 853.6,793.7 854.6,793.5 855.6,793.2 856.6,793.0 857.6,792.6 858.6,792.3 859.6,791.9 860.6,791.5 861.6,791.1 862.6,790.6 863.6,790.1 864.6,789.6 865.6,789.2 866.6,788.7 867.6,788.3 868.6,788.0 869.6,787.7 870.6,787.4 871.6,787.1 872.6,786.8 873.6,786.6 874.6,786.4 875.6,786.2 876.6,786.1 877.6,786.0 878.6,785.9 879.6,786.0 880.6,786.0 881.6,786.1 882.6,786.3 883.6,786.5 884.6,786.8 885.6,787.1 886.6,787.5 887.6,787.9 888.6,788.5 889.6,789.1 890.6,789.8 891.6,790.5 892.6,791.2 893.6,792.0 894.6,792.9 895.6,793.8 896.6,794.8 897.6,795.8 898.6,796.7 899.6,797.7 900.6,798.8 901.6,799.8 902.6,800.8 903.6,801.8 904.6,802.9 905.6,804.0 906.6,805.0 907.6,806.1 908.6,807.1 909.6,808.1 910.6,809.0 911.6,809.9 912.6,810.7 913.6,811.6 914.6,812.4 915.6,813.3 916.6,814.1 917.6,815.1 918.6,816.0 919.6,817.1 920.6,818.4 921.6,819.8 922.6,821.3 923.6,822.9 924.6,824.4 925.6,825.8 926.6,827.1 927.6,828.1 928.6,829.1 929.6,830.0 930.6,830.9 931.6,831.8 932.6,832.6 933.6,833.4 934.6,834.2 935.6,834.9 936.6,835.5 937.6,836.1 938.6,836.7 939.6,837.2 940.6,837.7 941.6,838.2 942.6,838.5 943.6,838.9 944.6,839.2 945.6,839.5 946.6,839.8 947.6,840.1 948.6,840.4 949.6,840.7 950.6,841.0 951.6,841.2 952.6,841.5 953.6,841.8 954.6,842.0 955.6,842.3 956.6,842.5 957.6,842.7 958.6,843.0 959.6,843.2 960.6,843.4 961.6,843.5 962.6,843.7 963.6,843.9 964.6,844.0 965.6,844.1 966.6,844.3 967.6,844.4 968.6,844.6 969.6,844.7 970.6,844.8 971.6,845.0 972.6,845.1 973.6,845.2 974.6,845.4 975.6,845.5 976.6,845.6 977.6,845.7 978.6,845.8 979.6,845.9 980.6,846.0 981.6,846.1 982.6,846.2 983.6,846.3 984.6,846.4 985.6,846.5 986.6,846.5 987.6,846.6 988.6,846.7 989.6,846.8 990.6,846.8 991.6,846.9 992.6,846.9 993.6,847.0" fill="none" stroke="#0c0c0c" stroke-width="4.6" stroke-linejoin="round"/>
<text x="821" y="188.3" font-family="'Liberation Sans', sans-serif" font-size="28" fill="#111" stroke="#111" stroke-width="0.6">P<tspan font-size="17.5" dy="7">0</tspan><tspan dy="-7">=1.27 W/cm</tspan><tspan font-size="17.5" dy="-11">2</tspan></text>
<line x1="840.5" y1="225.4" x2="914.5" y2="225.4" stroke="#f08018" stroke-width="5"/>
<text x="921" y="235.2" font-family="'Liberation Sans', sans-serif" font-size="31" fill="#111" stroke="#111" stroke-width="0.6">P<tspan font-size="21.5" dx="-0.8" dy="7.3">0</tspan></text>
<line x1="840.5" y1="270.5" x2="914.5" y2="270.5" stroke="#161672" stroke-width="5"/>
<text x="921" y="280.3" font-family="'Liberation Sans', sans-serif" font-size="31" fill="#111" stroke="#111" stroke-width="0.6">2P<tspan font-size="21.5" dx="-0.8" dy="7.3">0</tspan></text>
<line x1="840.5" y1="315.6" x2="914.5" y2="315.6" stroke="#126a60" stroke-width="5"/>
<text x="921" y="325.4" font-family="'Liberation Sans', sans-serif" font-size="31" fill="#111" stroke="#111" stroke-width="0.6">3P<tspan font-size="21.5" dx="-0.8" dy="7.3">0</tspan></text>
<line x1="840.5" y1="360.7" x2="914.5" y2="360.7" stroke="#e014e0" stroke-width="5"/>
<text x="921" y="370.5" font-family="'Liberation Sans', sans-serif" font-size="31" fill="#111" stroke="#111" stroke-width="0.6">5P<tspan font-size="21.5" dx="-0.8" dy="7.3">0</tspan></text>
<line x1="840.5" y1="405.8" x2="914.5" y2="405.8" stroke="#26eee6" stroke-width="5"/>
<text x="921" y="415.6" font-family="'Liberation Sans', sans-serif" font-size="31" fill="#111" stroke="#111" stroke-width="0.6">10P<tspan font-size="21.5" dx="-0.8" dy="7.3">0</tspan></text>
<line x1="840.5" y1="450.9" x2="914.5" y2="450.9" stroke="#1212e2" stroke-width="5"/>
<text x="921" y="460.7" font-family="'Liberation Sans', sans-serif" font-size="31" fill="#111" stroke="#111" stroke-width="0.6">20P<tspan font-size="21.5" dx="-0.8" dy="7.3">0</tspan></text>
<line x1="840.5" y1="496.0" x2="914.5" y2="496.0" stroke="#1eee1e" stroke-width="5"/>
<text x="921" y="505.8" font-family="'Liberation Sans', sans-serif" font-size="31" fill="#111" stroke="#111" stroke-width="0.6">30P<tspan font-size="21.5" dx="-0.8" dy="7.3">0</tspan></text>
<line x1="840.5" y1="541.1" x2="914.5" y2="541.1" stroke="#e20c16" stroke-width="5"/>
<text x="921" y="550.9" font-family="'Liberation Sans', sans-serif" font-size="31" fill="#111" stroke="#111" stroke-width="0.6">50P<tspan font-size="21.5" dx="-0.8" dy="7.3">0</tspan></text>
<line x1="840.5" y1="586.2" x2="914.5" y2="586.2" stroke="#0c0c0c" stroke-width="5"/>
<text x="921" y="596.0" font-family="'Liberation Sans', sans-serif" font-size="31" fill="#111" stroke="#111" stroke-width="0.6">100P<tspan font-size="21.5" dx="-0.8" dy="7.3">0</tspan></text>
<path d="M626.3 198.5V231" stroke="#333" stroke-width="2.6" fill="none"/>
<path d="M621.5 226L626.3 243L631.0999999999999 226L626.3 230Z" fill="#111"/>
<path d="M764 302V335.5" stroke="#333" stroke-width="2.6" fill="none"/>
<path d="M759.2 330.5L764 347.5L768.8 330.5L764 334.5Z" fill="#111"/>
<path d="M881.5 736.3V768.5" stroke="#333" stroke-width="2.6" fill="none"/>
<path d="M876.7 763.5L881.5 780.5L886.3 763.5L881.5 767.5Z" fill="#111"/>
<text x="628.2" y="188.5" font-family="'Liberation Sans', sans-serif" font-size="37.5" text-anchor="middle" fill="#111" stroke="#111" stroke-width="0.6">GS</text>
<text x="765.8" y="293" font-family="'Liberation Sans', sans-serif" font-size="37.5" text-anchor="middle" fill="#111" stroke="#111" stroke-width="0.6">1ES</text>
<text x="883.8" y="722" font-family="'Liberation Sans', sans-serif" font-size="37.5" text-anchor="middle" fill="#111" stroke="#111" stroke-width="0.6">2ES</text>
<text x="170" y="803" font-family="'Liberation Sans', sans-serif" font-size="40" fill="#111" stroke="#111" stroke-width="0.6">T = 88 K</text>
</g>
</svg>
</body></html>
